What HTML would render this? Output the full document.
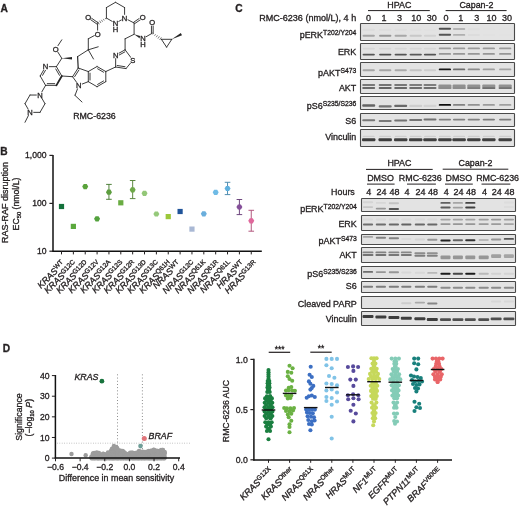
<!DOCTYPE html>
<html><head><meta charset="utf-8"><style>
html,body{margin:0;padding:0;background:#fff;}
svg{display:block;font-family:"Liberation Sans",Arial,sans-serif;}
text{stroke:#231f20;stroke-width:0.32px;}
</style></head><body>
<svg width="520" height="507" viewBox="0 0 520 507">
<defs>
<filter id="bl" x="-20%" y="-50%" width="140%" height="200%"><feGaussianBlur stdDeviation="0.55"/></filter>
</defs>
<rect width="520" height="507" fill="#fff"/>
<text x="0.60" y="12.00" font-size="10.2" font-weight="bold" fill="#231f20">A</text>
<text x="0.20" y="154.50" font-size="10.2" font-weight="bold" fill="#231f20">B</text>
<text x="235.30" y="12.20" font-size="10.2" font-weight="bold" fill="#231f20">C</text>
<text x="2.80" y="352.40" font-size="10.2" font-weight="bold" fill="#231f20">D</text>
<g stroke="#262626" stroke-width="0.9" stroke-linecap="round" fill="none"><line x1="115.50" y1="2.30" x2="124.59" y2="7.55"/><line x1="124.59" y1="7.55" x2="124.59" y2="18.05"/><line x1="124.59" y1="18.05" x2="115.50" y2="23.30"/><line x1="115.50" y1="23.30" x2="106.41" y2="18.05"/><line x1="106.41" y1="18.05" x2="106.41" y2="7.55"/><line x1="106.41" y1="7.55" x2="115.50" y2="2.30"/><line x1="105.69" y1="18.86" x2="105.36" y2="18.33" stroke-width="0.6"/><line x1="104.04" y1="20.14" x2="103.49" y2="19.23" stroke-width="0.6"/><line x1="102.40" y1="21.41" x2="101.61" y2="20.14" stroke-width="0.6"/><line x1="100.75" y1="22.69" x2="99.73" y2="21.04" stroke-width="0.6"/><line x1="99.11" y1="23.97" x2="97.85" y2="21.94" stroke-width="0.6"/><line x1="98.09" y1="22.80" x2="88.69" y2="16.20"/><line x1="97.11" y1="24.20" x2="87.71" y2="17.60"/><line x1="97.60" y1="23.50" x2="97.60" y2="33.80"/><line x1="97.60" y1="33.80" x2="88.30" y2="38.80"/><line x1="88.30" y1="38.80" x2="88.30" y2="49.80"/><line x1="88.30" y1="49.80" x2="98.20" y2="46.80"/><line x1="88.30" y1="49.80" x2="93.50" y2="59.00"/><line x1="88.30" y1="49.80" x2="77.60" y2="56.60"/><line x1="97.05" y1="66.50" x2="105.80" y2="71.55"/><line x1="105.80" y1="71.55" x2="105.80" y2="81.65"/><line x1="105.80" y1="81.65" x2="97.05" y2="86.70"/><line x1="97.05" y1="86.70" x2="88.30" y2="81.65"/><line x1="88.30" y1="81.65" x2="88.30" y2="71.55"/><line x1="88.30" y1="71.55" x2="97.05" y2="66.50"/><line x1="97.60" y1="68.78" x2="103.55" y2="72.21"/><line x1="103.55" y1="80.99" x2="97.60" y2="84.42"/><line x1="90.00" y1="80.03" x2="90.00" y2="73.17"/><line x1="88.30" y1="71.55" x2="78.20" y2="68.00"/><line x1="78.20" y1="68.00" x2="72.60" y2="76.70"/><line x1="72.60" y1="76.70" x2="78.80" y2="85.40"/><line x1="78.80" y1="85.40" x2="88.30" y2="81.65"/><line x1="78.96" y1="69.96" x2="74.70" y2="76.58"/><line x1="77.60" y1="56.60" x2="78.20" y2="68.00" stroke-width="1.2"/><line x1="78.80" y1="85.40" x2="75.00" y2="95.40"/><line x1="75.00" y1="95.40" x2="82.00" y2="102.00"/><line x1="105.80" y1="71.55" x2="115.60" y2="67.00"/><line x1="115.60" y1="67.00" x2="115.70" y2="55.00"/><line x1="115.70" y1="55.00" x2="125.10" y2="49.80"/><line x1="125.10" y1="49.80" x2="132.90" y2="60.20"/><line x1="132.90" y1="60.20" x2="126.00" y2="68.60"/><line x1="126.00" y1="68.60" x2="115.60" y2="67.00"/><line x1="117.65" y1="55.86" x2="124.79" y2="51.91"/><line x1="117.11" y1="65.51" x2="125.01" y2="66.73"/><line x1="125.10" y1="49.80" x2="125.10" y2="38.80"/><line x1="125.10" y1="38.80" x2="134.10" y2="34.30"/><line x1="134.10" y1="34.30" x2="134.10" y2="23.00"/><line x1="124.59" y1="18.05" x2="134.10" y2="23.00"/><line x1="134.58" y1="23.70" x2="143.08" y2="17.90"/><line x1="133.62" y1="22.30" x2="142.12" y2="16.50"/><line x1="142.90" y1="38.60" x2="152.30" y2="33.20"/><line x1="153.15" y1="33.20" x2="153.15" y2="22.50"/><line x1="151.45" y1="33.20" x2="151.45" y2="22.50"/><line x1="153.38" y1="33.55" x2="153.04" y2="34.07" stroke-width="0.6"/><line x1="155.33" y1="34.59" x2="154.73" y2="35.47" stroke-width="0.6"/><line x1="157.27" y1="35.63" x2="156.43" y2="36.87" stroke-width="0.6"/><line x1="159.21" y1="36.66" x2="158.13" y2="38.28" stroke-width="0.6"/><line x1="161.15" y1="37.70" x2="159.83" y2="39.68" stroke-width="0.6"/><line x1="161.40" y1="39.30" x2="171.80" y2="39.30"/><line x1="171.80" y1="39.30" x2="166.60" y2="47.20"/><line x1="166.60" y1="47.20" x2="161.40" y2="39.30"/><line x1="61.80" y1="76.00" x2="56.40" y2="85.35" stroke-width="1.8"/><line x1="56.40" y1="85.35" x2="45.60" y2="85.35"/><line x1="45.60" y1="85.35" x2="40.20" y2="76.00"/><line x1="40.20" y1="76.00" x2="45.60" y2="66.65"/><line x1="45.60" y1="66.65" x2="56.40" y2="66.65"/><line x1="56.40" y1="66.65" x2="61.80" y2="76.00"/><line x1="46.21" y1="68.99" x2="42.54" y2="75.35"/><line x1="47.33" y1="83.65" x2="54.67" y2="83.65"/><line x1="55.79" y1="68.99" x2="59.46" y2="75.35"/><line x1="61.80" y1="76.00" x2="72.60" y2="76.70"/><line x1="56.40" y1="66.65" x2="61.80" y2="58.30"/><line x1="61.80" y1="58.30" x2="55.80" y2="48.90"/><line x1="55.80" y1="48.90" x2="61.80" y2="39.80"/><line x1="45.00" y1="103.70" x2="40.00" y2="112.36"/><line x1="40.00" y1="112.36" x2="30.00" y2="112.36"/><line x1="30.00" y1="112.36" x2="25.00" y2="103.70"/><line x1="25.00" y1="103.70" x2="30.00" y2="95.04"/><line x1="30.00" y1="95.04" x2="40.00" y2="95.04"/><line x1="40.00" y1="95.04" x2="45.00" y2="103.70"/><line x1="45.60" y1="85.35" x2="40.00" y2="95.04"/><line x1="30.00" y1="112.36" x2="25.00" y2="122.30"/></g>
<g fill="#262626"><polygon points="134.10,34.30 139.91,38.47 140.96,36.32"/><polygon points="171.80,39.30 182.01,35.35 180.79,33.05"/><polygon points="61.80,58.30 72.00,59.60 72.00,57.00"/></g>
<circle cx="88.20" cy="16.90" r="3.3" fill="#fff"/>
<text x="88.20" y="19.60" font-size="7.6" text-anchor="middle" fill="#262626">O</text>
<circle cx="97.60" cy="33.80" r="3.3" fill="#fff"/>
<text x="97.60" y="36.50" font-size="7.6" text-anchor="middle" fill="#262626">O</text>
<circle cx="124.59" cy="18.05" r="3.3" fill="#fff"/>
<text x="124.59" y="20.75" font-size="7.6" text-anchor="middle" fill="#262626">N</text>
<circle cx="115.50" cy="23.30" r="3.3" fill="#fff"/>
<text x="115.50" y="26.00" font-size="7.6" text-anchor="middle" fill="#262626">N</text>
<circle cx="115.50" cy="29.50" r="3.3" fill="#fff"/>
<text x="115.50" y="32.20" font-size="7.6" text-anchor="middle" fill="#262626">H</text>
<circle cx="142.60" cy="17.20" r="3.3" fill="#fff"/>
<text x="142.60" y="19.90" font-size="7.6" text-anchor="middle" fill="#262626">O</text>
<circle cx="142.90" cy="38.60" r="3.3" fill="#fff"/>
<text x="142.90" y="41.30" font-size="7.6" text-anchor="middle" fill="#262626">N</text>
<circle cx="142.90" cy="44.60" r="3.3" fill="#fff"/>
<text x="142.90" y="47.30" font-size="7.6" text-anchor="middle" fill="#262626">H</text>
<circle cx="152.30" cy="22.50" r="3.3" fill="#fff"/>
<text x="152.30" y="25.20" font-size="7.6" text-anchor="middle" fill="#262626">O</text>
<circle cx="115.70" cy="55.00" r="3.3" fill="#fff"/>
<text x="115.70" y="57.70" font-size="7.6" text-anchor="middle" fill="#262626">N</text>
<circle cx="132.90" cy="60.20" r="3.3" fill="#fff"/>
<text x="132.90" y="62.90" font-size="7.6" text-anchor="middle" fill="#262626">S</text>
<circle cx="78.80" cy="85.40" r="3.3" fill="#fff"/>
<text x="78.80" y="88.10" font-size="7.6" text-anchor="middle" fill="#262626">N</text>
<circle cx="45.60" cy="66.65" r="3.3" fill="#fff"/>
<text x="45.60" y="69.35" font-size="7.6" text-anchor="middle" fill="#262626">N</text>
<circle cx="55.80" cy="48.90" r="3.3" fill="#fff"/>
<text x="55.80" y="51.60" font-size="7.6" text-anchor="middle" fill="#262626">O</text>
<circle cx="40.00" cy="95.04" r="3.3" fill="#fff"/>
<text x="40.00" y="97.74" font-size="7.6" text-anchor="middle" fill="#262626">N</text>
<circle cx="30.00" cy="112.36" r="3.3" fill="#fff"/>
<text x="30.00" y="115.06" font-size="7.6" text-anchor="middle" fill="#262626">N</text>
<text x="73.20" y="119.10" font-size="8.8" fill="#231f20">RMC-6236</text>
<line x1="53.00" y1="154.90" x2="53.00" y2="251.90" stroke="#111" stroke-width="1.5"/>
<line x1="52.30" y1="251.20" x2="261.80" y2="251.20" stroke="#111" stroke-width="1.5"/>
<line x1="49.40" y1="155.40" x2="53.00" y2="155.40" stroke="#231f20" stroke-width="1.2"/>
<text x="46.50" y="157.90" font-size="8.6" text-anchor="end" fill="#231f20">1,000</text>
<line x1="49.40" y1="203.40" x2="53.00" y2="203.40" stroke="#231f20" stroke-width="1.2"/>
<text x="46.50" y="205.90" font-size="8.6" text-anchor="end" fill="#231f20">100</text>
<line x1="49.40" y1="251.20" x2="53.00" y2="251.20" stroke="#231f20" stroke-width="1.2"/>
<text x="46.50" y="253.70" font-size="8.6" text-anchor="end" fill="#231f20">10</text>
<text transform="translate(8.0,202.6) rotate(-90)" font-size="9.0" text-anchor="middle" fill="#231f20">RAS-RAF disruption</text>
<text transform="translate(19.4,204.0) rotate(-90)" font-size="8.7" text-anchor="middle" fill="#231f20">EC<tspan font-size="5.8" dy="1.6">50</tspan><tspan dy="-1.6"> (nmol/L)</tspan></text>
<line x1="61.50" y1="251.20" x2="61.50" y2="254.40" stroke="#231f20" stroke-width="1.0"/>
<rect x="58.90" y="203.90" width="5.2" height="5.2" fill="#13713a"/>
<text transform="translate(65.50,264.40) rotate(-45)" font-size="9.0" text-anchor="end" fill="#231f20"><tspan font-style="italic">KRAS</tspan><tspan font-size="6.6" dy="-2.9">WT</tspan></text>
<line x1="73.36" y1="251.20" x2="73.36" y2="254.40" stroke="#231f20" stroke-width="1.0"/>
<rect x="70.76" y="223.80" width="5.2" height="5.2" fill="#5aa83c"/>
<text transform="translate(77.36,264.40) rotate(-45)" font-size="9.0" text-anchor="end" fill="#231f20"><tspan font-style="italic">KRAS</tspan><tspan font-size="6.6" dy="-2.9">G12C</tspan></text>
<line x1="85.22" y1="251.20" x2="85.22" y2="254.40" stroke="#231f20" stroke-width="1.0"/>
<polygon points="88.22,186.60 86.72,189.20 83.72,189.20 82.22,186.60 83.72,184.00 86.72,184.00" fill="#5aa33c"/>
<text transform="translate(89.22,264.40) rotate(-45)" font-size="9.0" text-anchor="end" fill="#231f20"><tspan font-style="italic">KRAS</tspan><tspan font-size="6.6" dy="-2.9">G12D</tspan></text>
<line x1="97.08" y1="251.20" x2="97.08" y2="254.40" stroke="#231f20" stroke-width="1.0"/>
<polygon points="100.08,218.80 98.58,221.40 95.58,221.40 94.08,218.80 95.58,216.20 98.58,216.20" fill="#54a23e"/>
<text transform="translate(101.08,264.40) rotate(-45)" font-size="9.0" text-anchor="end" fill="#231f20"><tspan font-style="italic">KRAS</tspan><tspan font-size="6.6" dy="-2.9">G12V</tspan></text>
<line x1="108.94" y1="251.20" x2="108.94" y2="254.40" stroke="#231f20" stroke-width="1.0"/>
<line x1="108.94" y1="184.40" x2="108.94" y2="199.30" stroke="#487b31" stroke-width="0.95"/>
<line x1="106.14" y1="184.40" x2="111.74" y2="184.40" stroke="#487b31" stroke-width="0.95"/>
<line x1="106.14" y1="199.30" x2="111.74" y2="199.30" stroke="#487b31" stroke-width="0.95"/>
<polygon points="111.94,192.20 110.44,194.80 107.44,194.80 105.94,192.20 107.44,189.60 110.44,189.60" fill="#5d9e3f"/>
<text transform="translate(112.94,264.40) rotate(-45)" font-size="9.0" text-anchor="end" fill="#231f20"><tspan font-style="italic">KRAS</tspan><tspan font-size="6.6" dy="-2.9">G12A</tspan></text>
<line x1="120.80" y1="251.20" x2="120.80" y2="254.40" stroke="#231f20" stroke-width="1.0"/>
<rect x="118.20" y="200.20" width="5.2" height="5.2" fill="#6aac42"/>
<text transform="translate(124.80,264.40) rotate(-45)" font-size="9.0" text-anchor="end" fill="#231f20"><tspan font-style="italic">KRAS</tspan><tspan font-size="6.6" dy="-2.9">G12S</tspan></text>
<line x1="132.66" y1="251.20" x2="132.66" y2="254.40" stroke="#231f20" stroke-width="1.0"/>
<line x1="132.66" y1="180.50" x2="132.66" y2="198.60" stroke="#558338" stroke-width="0.95"/>
<line x1="129.86" y1="180.50" x2="135.46" y2="180.50" stroke="#558338" stroke-width="0.95"/>
<line x1="129.86" y1="198.60" x2="135.46" y2="198.60" stroke="#558338" stroke-width="0.95"/>
<polygon points="135.66,189.80 134.16,192.40 131.16,192.40 129.66,189.80 131.16,187.20 134.16,187.20" fill="#6ea848"/>
<text transform="translate(136.66,264.40) rotate(-45)" font-size="9.0" text-anchor="end" fill="#231f20"><tspan font-style="italic">KRAS</tspan><tspan font-size="6.6" dy="-2.9">G12R</tspan></text>
<line x1="144.52" y1="251.20" x2="144.52" y2="254.40" stroke="#231f20" stroke-width="1.0"/>
<polygon points="147.52,193.30 146.02,195.90 143.02,195.90 141.52,193.30 143.02,190.70 146.02,190.70" fill="#93c777"/>
<text transform="translate(148.52,264.40) rotate(-45)" font-size="9.0" text-anchor="end" fill="#231f20"><tspan font-style="italic">KRAS</tspan><tspan font-size="6.6" dy="-2.9">G13D</tspan></text>
<line x1="156.38" y1="251.20" x2="156.38" y2="254.40" stroke="#231f20" stroke-width="1.0"/>
<polygon points="159.38,214.00 157.88,216.60 154.88,216.60 153.38,214.00 154.88,211.40 157.88,211.40" fill="#95c97a"/>
<text transform="translate(160.38,264.40) rotate(-45)" font-size="9.0" text-anchor="end" fill="#231f20"><tspan font-style="italic">KRAS</tspan><tspan font-size="6.6" dy="-2.9">G13C</tspan></text>
<line x1="168.24" y1="251.20" x2="168.24" y2="254.40" stroke="#231f20" stroke-width="1.0"/>
<rect x="165.64" y="214.00" width="5.2" height="5.2" fill="#9cc83a"/>
<text transform="translate(172.24,264.40) rotate(-45)" font-size="9.0" text-anchor="end" fill="#231f20"><tspan font-style="italic">KRAS</tspan><tspan font-size="6.6" dy="-2.9">Q61H</tspan></text>
<line x1="180.10" y1="251.20" x2="180.10" y2="254.40" stroke="#231f20" stroke-width="1.0"/>
<rect x="177.50" y="208.90" width="5.2" height="5.2" fill="#20549a"/>
<text transform="translate(181.10,264.40) rotate(-45)" font-size="9.0" text-anchor="end" fill="#231f20"><tspan font-style="italic">NRAS</tspan><tspan font-size="6.6" dy="-2.9">WT</tspan></text>
<line x1="191.96" y1="251.20" x2="191.96" y2="254.40" stroke="#231f20" stroke-width="1.0"/>
<rect x="189.36" y="226.50" width="5.2" height="5.2" fill="#a9b8d4"/>
<text transform="translate(195.96,264.40) rotate(-45)" font-size="9.0" text-anchor="end" fill="#231f20"><tspan font-style="italic">NRAS</tspan><tspan font-size="6.6" dy="-2.9">G12C</tspan></text>
<line x1="203.82" y1="251.20" x2="203.82" y2="254.40" stroke="#231f20" stroke-width="1.0"/>
<polygon points="206.82,213.80 205.32,216.40 202.32,216.40 200.82,213.80 202.32,211.20 205.32,211.20" fill="#6aaedc"/>
<text transform="translate(207.82,264.40) rotate(-45)" font-size="9.0" text-anchor="end" fill="#231f20"><tspan font-style="italic">NRAS</tspan><tspan font-size="6.6" dy="-2.9">Q61K</tspan></text>
<line x1="215.68" y1="251.20" x2="215.68" y2="254.40" stroke="#231f20" stroke-width="1.0"/>
<polygon points="218.68,192.30 217.18,194.90 214.18,194.90 212.68,192.30 214.18,189.70 217.18,189.70" fill="#6fbbe6"/>
<text transform="translate(220.68,264.40) rotate(-45)" font-size="9.0" text-anchor="end" fill="#231f20"><tspan font-style="italic">NRAS</tspan><tspan font-size="6.6" dy="-2.9">Q61R</tspan></text>
<line x1="227.54" y1="251.20" x2="227.54" y2="254.40" stroke="#231f20" stroke-width="1.0"/>
<line x1="227.54" y1="182.30" x2="227.54" y2="194.60" stroke="#4a89ad" stroke-width="0.95"/>
<line x1="224.74" y1="182.30" x2="230.34" y2="182.30" stroke="#4a89ad" stroke-width="0.95"/>
<line x1="224.74" y1="194.60" x2="230.34" y2="194.60" stroke="#4a89ad" stroke-width="0.95"/>
<polygon points="230.54,188.50 229.04,191.10 226.04,191.10 224.54,188.50 226.04,185.90 229.04,185.90" fill="#5fb0de"/>
<text transform="translate(232.54,264.40) rotate(-45)" font-size="9.0" text-anchor="end" fill="#231f20"><tspan font-style="italic">NRAS</tspan><tspan font-size="6.6" dy="-2.9">Q61L</tspan></text>
<line x1="239.40" y1="251.20" x2="239.40" y2="254.40" stroke="#231f20" stroke-width="1.0"/>
<line x1="239.40" y1="199.50" x2="239.40" y2="214.60" stroke="#673e78" stroke-width="0.95"/>
<line x1="236.60" y1="199.50" x2="242.20" y2="199.50" stroke="#673e78" stroke-width="0.95"/>
<line x1="236.60" y1="214.60" x2="242.20" y2="214.60" stroke="#673e78" stroke-width="0.95"/>
<polygon points="242.40,207.00 240.90,209.60 237.90,209.60 236.40,207.00 237.90,204.40 240.90,204.40" fill="#85509a"/>
<text transform="translate(244.90,264.40) rotate(-45)" font-size="9.0" text-anchor="end" fill="#231f20"><tspan font-style="italic">HRAS</tspan><tspan font-size="6.6" dy="-2.9">WT</tspan></text>
<line x1="251.26" y1="251.20" x2="251.26" y2="254.40" stroke="#231f20" stroke-width="1.0"/>
<line x1="251.26" y1="210.30" x2="251.26" y2="231.20" stroke="#ae5078" stroke-width="0.95"/>
<line x1="248.46" y1="210.30" x2="254.06" y2="210.30" stroke="#ae5078" stroke-width="0.95"/>
<line x1="248.46" y1="231.20" x2="254.06" y2="231.20" stroke="#ae5078" stroke-width="0.95"/>
<polygon points="254.26,220.80 252.76,223.40 249.76,223.40 248.26,220.80 249.76,218.20 252.76,218.20" fill="#e0679b"/>
<text transform="translate(258.06,264.40) rotate(-45)" font-size="9.0" text-anchor="end" fill="#231f20"><tspan font-style="italic">HRAS</tspan><tspan font-size="6.6" dy="-2.9">G13R</tspan></text>
<text x="356.20" y="21.20" font-size="9.05" text-anchor="end" fill="#231f20">RMC-6236 (nmol/L), 4 h</text>
<text x="368.40" y="20.80" font-size="9.0" text-anchor="middle" fill="#231f20">0</text>
<text x="384.10" y="20.80" font-size="9.0" text-anchor="middle" fill="#231f20">1</text>
<text x="399.60" y="20.80" font-size="9.0" text-anchor="middle" fill="#231f20">3</text>
<text x="416.30" y="20.80" font-size="9.0" text-anchor="middle" fill="#231f20">10</text>
<text x="431.80" y="20.80" font-size="9.0" text-anchor="middle" fill="#231f20">30</text>
<text x="446.10" y="20.80" font-size="9.0" text-anchor="middle" fill="#231f20">0</text>
<text x="460.80" y="20.80" font-size="9.0" text-anchor="middle" fill="#231f20">1</text>
<text x="476.70" y="20.80" font-size="9.0" text-anchor="middle" fill="#231f20">3</text>
<text x="491.40" y="20.80" font-size="9.0" text-anchor="middle" fill="#231f20">10</text>
<text x="506.90" y="20.80" font-size="9.0" text-anchor="middle" fill="#231f20">30</text>
<text x="399.30" y="7.70" font-size="8.9" text-anchor="middle" fill="#231f20">HPAC</text>
<text x="476.40" y="7.70" font-size="8.9" text-anchor="middle" fill="#231f20">Capan-2</text>
<line x1="368.00" y1="10.60" x2="429.80" y2="10.60" stroke="#231f20" stroke-width="1.0"/>
<line x1="445.60" y1="10.60" x2="506.60" y2="10.60" stroke="#231f20" stroke-width="1.0"/>
<rect x="360.50" y="23.50" width="154.00" height="17.00" fill="#e3e3e3" stroke="#4a4a4a" stroke-width="1.1" rx="0.6"/>
<g filter="url(#bl)"><rect x="362.56" y="28.85" width="12.29" height="1.90" rx="1" fill="#dcdcdc"/><rect x="379.06" y="28.85" width="12.29" height="1.90" rx="1" fill="#dddddd"/><rect x="394.56" y="28.85" width="12.29" height="1.90" rx="1" fill="#dedede"/><rect x="409.56" y="28.85" width="12.29" height="1.90" rx="1" fill="#e0e0e0"/><rect x="423.86" y="28.85" width="12.29" height="1.90" rx="1" fill="#e1e1e1"/><rect x="362.56" y="34.85" width="12.29" height="1.90" rx="1" fill="#a5a5a5"/><rect x="379.06" y="34.85" width="12.29" height="1.90" rx="1" fill="#969696"/><rect x="394.56" y="34.85" width="12.29" height="1.90" rx="1" fill="#a8a8a8"/><rect x="409.56" y="34.85" width="12.29" height="1.90" rx="1" fill="#c8c8c8"/><rect x="423.86" y="34.85" width="12.29" height="1.90" rx="1" fill="#d2d2d2"/><rect x="438.76" y="27.75" width="12.29" height="1.90" rx="1" fill="#505050"/><rect x="452.96" y="28.05" width="12.29" height="1.90" rx="1" fill="#b4b4b4"/><rect x="467.66" y="28.25" width="12.29" height="1.90" rx="1" fill="#dedede"/><rect x="482.66" y="28.25" width="12.29" height="1.90" rx="1" fill="#e2e2e2"/><rect x="499.06" y="28.25" width="12.29" height="1.90" rx="1" fill="#e2e2e2"/><rect x="438.76" y="33.75" width="12.29" height="1.90" rx="1" fill="#555555"/><rect x="452.96" y="33.95" width="12.29" height="1.90" rx="1" fill="#afafaf"/><rect x="467.66" y="34.05" width="12.29" height="1.90" rx="1" fill="#dcdcdc"/><rect x="482.66" y="34.05" width="12.29" height="1.90" rx="1" fill="#e1e1e1"/><rect x="499.06" y="34.05" width="12.29" height="1.90" rx="1" fill="#e2e2e2"/></g>
<text x="356.30" y="38.30" font-size="8.95" text-anchor="end" fill="#231f20">pERK<tspan font-size="6.8" dy="-2.9">T202/Y204</tspan></text>
<rect x="360.50" y="43.50" width="154.00" height="16.00" fill="#e3e3e3" stroke="#4a4a4a" stroke-width="1.1" rx="0.6"/>
<g filter="url(#bl)"><rect x="362.56" y="47.65" width="12.29" height="1.90" rx="1" fill="#d6d6d6"/><rect x="379.06" y="47.65" width="12.29" height="1.90" rx="1" fill="#d6d6d6"/><rect x="394.56" y="47.65" width="12.29" height="1.90" rx="1" fill="#d6d6d6"/><rect x="409.56" y="47.65" width="12.29" height="1.90" rx="1" fill="#d6d6d6"/><rect x="423.86" y="47.65" width="12.29" height="1.90" rx="1" fill="#d6d6d6"/><rect x="362.56" y="53.65" width="12.29" height="1.90" rx="1" fill="#555555"/><rect x="379.06" y="53.65" width="12.29" height="1.90" rx="1" fill="#505050"/><rect x="394.56" y="53.65" width="12.29" height="1.90" rx="1" fill="#555555"/><rect x="409.56" y="53.65" width="12.29" height="1.90" rx="1" fill="#5a5a5a"/><rect x="423.86" y="53.65" width="12.29" height="1.90" rx="1" fill="#555555"/><rect x="438.76" y="47.45" width="12.29" height="1.90" rx="1" fill="#9b9b9b"/><rect x="452.96" y="47.45" width="12.29" height="1.90" rx="1" fill="#9b9b9b"/><rect x="467.66" y="47.45" width="12.29" height="1.90" rx="1" fill="#9b9b9b"/><rect x="482.66" y="47.45" width="12.29" height="1.90" rx="1" fill="#9b9b9b"/><rect x="499.06" y="47.45" width="12.29" height="1.90" rx="1" fill="#9b9b9b"/><rect x="438.76" y="52.95" width="12.29" height="1.90" rx="1" fill="#969696"/><rect x="452.96" y="52.95" width="12.29" height="1.90" rx="1" fill="#969696"/><rect x="467.66" y="52.95" width="12.29" height="1.90" rx="1" fill="#969696"/><rect x="482.66" y="52.95" width="12.29" height="1.90" rx="1" fill="#969696"/><rect x="499.06" y="52.95" width="12.29" height="1.90" rx="1" fill="#969696"/></g>
<text x="356.30" y="55.10" font-size="8.95" text-anchor="end" fill="#231f20">ERK</text>
<rect x="360.50" y="62.50" width="154.00" height="14.00" fill="#e3e3e3" stroke="#4a4a4a" stroke-width="1.1" rx="0.6"/>
<g filter="url(#bl)"><rect x="362.56" y="69.25" width="12.29" height="1.90" rx="1" fill="#a5a5a5"/><rect x="379.06" y="69.25" width="12.29" height="1.90" rx="1" fill="#a5a5a5"/><rect x="394.56" y="69.25" width="12.29" height="1.90" rx="1" fill="#aaaaaa"/><rect x="409.56" y="69.25" width="12.29" height="1.90" rx="1" fill="#c3c3c3"/><rect x="423.86" y="69.25" width="12.29" height="1.90" rx="1" fill="#cdcdcd"/><rect x="438.76" y="68.45" width="12.29" height="1.90" rx="1" fill="#191919"/><rect x="452.96" y="68.45" width="12.29" height="1.90" rx="1" fill="#6e6e6e"/><rect x="467.66" y="68.45" width="12.29" height="1.90" rx="1" fill="#8c8c8c"/><rect x="482.66" y="68.45" width="12.29" height="1.90" rx="1" fill="#a0a0a0"/><rect x="499.06" y="68.45" width="12.29" height="1.90" rx="1" fill="#a5a5a5"/></g>
<text x="356.30" y="76.30" font-size="8.95" text-anchor="end" fill="#231f20">pAKT<tspan font-size="6.8" dy="-2.9">S473</tspan></text>
<rect x="360.50" y="79.50" width="154.00" height="14.00" fill="#e3e3e3" stroke="#4a4a4a" stroke-width="1.1" rx="0.6"/>
<g filter="url(#bl)"><rect x="362.20" y="84.05" width="13.00" height="1.90" rx="1" fill="#787878"/><rect x="378.70" y="84.05" width="13.00" height="1.90" rx="1" fill="#737373"/><rect x="394.20" y="84.05" width="13.00" height="1.90" rx="1" fill="#787878"/><rect x="409.20" y="84.05" width="13.00" height="1.90" rx="1" fill="#7d7d7d"/><rect x="423.50" y="84.05" width="13.00" height="1.90" rx="1" fill="#7d7d7d"/><rect x="362.20" y="86.95" width="13.00" height="2.10" rx="1" fill="#696969"/><rect x="378.70" y="86.95" width="13.00" height="2.10" rx="1" fill="#646464"/><rect x="394.20" y="86.95" width="13.00" height="2.10" rx="1" fill="#696969"/><rect x="409.20" y="86.95" width="13.00" height="2.10" rx="1" fill="#6e6e6e"/><rect x="423.50" y="86.95" width="13.00" height="2.10" rx="1" fill="#6e6e6e"/><rect x="438.40" y="84.40" width="13.00" height="4.40" rx="1" fill="#919191"/><rect x="452.60" y="84.40" width="13.00" height="4.40" rx="1" fill="#919191"/><rect x="467.30" y="84.40" width="13.00" height="4.40" rx="1" fill="#919191"/><rect x="482.30" y="84.40" width="13.00" height="4.40" rx="1" fill="#919191"/><rect x="498.70" y="84.40" width="13.00" height="4.40" rx="1" fill="#919191"/><rect x="438.40" y="87.30" width="13.00" height="1.80" rx="1" fill="#8c8c8c"/><rect x="452.60" y="87.30" width="13.00" height="1.80" rx="1" fill="#8c8c8c"/><rect x="467.30" y="87.30" width="13.00" height="1.80" rx="1" fill="#7d7d7d"/><rect x="482.30" y="87.30" width="13.00" height="1.80" rx="1" fill="#6e6e6e"/><rect x="498.70" y="87.30" width="13.00" height="1.80" rx="1" fill="#737373"/></g>
<text x="356.30" y="91.10" font-size="8.95" text-anchor="end" fill="#231f20">AKT</text>
<rect x="360.50" y="96.50" width="154.00" height="13.00" fill="#e3e3e3" stroke="#4a4a4a" stroke-width="1.1" rx="0.6"/>
<g filter="url(#bl)"><rect x="362.20" y="104.35" width="13.00" height="2.30" rx="1" fill="#646464"/><rect x="378.70" y="105.15" width="13.00" height="2.30" rx="1" fill="#737373"/><rect x="394.20" y="104.65" width="13.00" height="2.30" rx="1" fill="#696969"/><rect x="409.20" y="104.65" width="13.00" height="2.30" rx="1" fill="#cdcdcd"/><rect x="423.50" y="104.65" width="13.00" height="2.30" rx="1" fill="#d2d2d2"/><rect x="438.76" y="103.95" width="12.29" height="1.90" rx="1" fill="#0a0a0a"/><rect x="452.96" y="103.95" width="12.29" height="1.90" rx="1" fill="#828282"/><rect x="467.66" y="103.95" width="12.29" height="1.90" rx="1" fill="#919191"/><rect x="482.66" y="103.95" width="12.29" height="1.90" rx="1" fill="#9b9b9b"/><rect x="499.06" y="103.95" width="12.29" height="1.90" rx="1" fill="#a0a0a0"/></g>
<text x="356.30" y="109.20" font-size="8.95" text-anchor="end" fill="#231f20">pS6<tspan font-size="6.8" dy="-2.9">S235/S236</tspan></text>
<rect x="360.50" y="113.50" width="154.00" height="13.00" fill="#e3e3e3" stroke="#4a4a4a" stroke-width="1.1" rx="0.6"/>
<g filter="url(#bl)"><rect x="362.20" y="119.20" width="13.00" height="2.00" rx="1" fill="#787878"/><rect x="378.70" y="120.00" width="13.00" height="2.00" rx="1" fill="#787878"/><rect x="394.20" y="119.50" width="13.00" height="2.00" rx="1" fill="#737373"/><rect x="409.20" y="119.00" width="13.00" height="2.00" rx="1" fill="#737373"/><rect x="423.50" y="118.50" width="13.00" height="2.00" rx="1" fill="#737373"/><rect x="438.76" y="118.65" width="12.29" height="1.90" rx="1" fill="#828282"/><rect x="452.96" y="118.65" width="12.29" height="1.90" rx="1" fill="#828282"/><rect x="467.66" y="118.65" width="12.29" height="1.90" rx="1" fill="#828282"/><rect x="482.66" y="118.65" width="12.29" height="1.90" rx="1" fill="#7d7d7d"/><rect x="499.06" y="118.65" width="12.29" height="1.90" rx="1" fill="#7d7d7d"/></g>
<text x="356.30" y="123.60" font-size="8.95" text-anchor="end" fill="#231f20">S6</text>
<rect x="360.50" y="129.50" width="154.00" height="17.00" fill="#e3e3e3" stroke="#4a4a4a" stroke-width="1.1" rx="0.6"/>
<g filter="url(#bl)"><rect x="362.00" y="138.30" width="13.40" height="3.00" rx="1" fill="#3c3c3c"/><rect x="378.50" y="138.30" width="13.40" height="3.00" rx="1" fill="#3c3c3c"/><rect x="394.00" y="138.30" width="13.40" height="3.00" rx="1" fill="#414141"/><rect x="409.00" y="138.30" width="13.40" height="3.00" rx="1" fill="#414141"/><rect x="423.30" y="138.30" width="13.40" height="3.00" rx="1" fill="#414141"/><rect x="438.20" y="138.30" width="13.40" height="3.00" rx="1" fill="#414141"/><rect x="452.40" y="138.30" width="13.40" height="3.00" rx="1" fill="#414141"/><rect x="467.10" y="138.30" width="13.40" height="3.00" rx="1" fill="#414141"/><rect x="482.10" y="138.30" width="13.40" height="3.00" rx="1" fill="#414141"/><rect x="498.50" y="138.30" width="13.40" height="3.00" rx="1" fill="#414141"/><rect x="362.70" y="135.70" width="12.00" height="1.40" rx="1" fill="#cdcdcd"/><rect x="379.20" y="135.70" width="12.00" height="1.40" rx="1" fill="#cdcdcd"/><rect x="394.70" y="135.70" width="12.00" height="1.40" rx="1" fill="#cdcdcd"/><rect x="409.70" y="135.70" width="12.00" height="1.40" rx="1" fill="#cdcdcd"/><rect x="424.00" y="135.70" width="12.00" height="1.40" rx="1" fill="#cdcdcd"/><rect x="438.90" y="135.70" width="12.00" height="1.40" rx="1" fill="#cdcdcd"/><rect x="453.10" y="135.70" width="12.00" height="1.40" rx="1" fill="#cdcdcd"/><rect x="467.80" y="135.70" width="12.00" height="1.40" rx="1" fill="#cdcdcd"/><rect x="482.80" y="135.70" width="12.00" height="1.40" rx="1" fill="#cdcdcd"/><rect x="499.20" y="135.70" width="12.00" height="1.40" rx="1" fill="#cdcdcd"/></g>
<text x="356.30" y="139.90" font-size="8.95" text-anchor="end" fill="#231f20">Vinculin</text>
<text x="399.40" y="165.90" font-size="8.9" text-anchor="middle" fill="#231f20">HPAC</text>
<text x="475.50" y="165.90" font-size="8.9" text-anchor="middle" fill="#231f20">Capan-2</text>
<line x1="366.00" y1="169.40" x2="432.70" y2="169.40" stroke="#231f20" stroke-width="1.0"/>
<line x1="442.70" y1="169.20" x2="508.30" y2="169.20" stroke="#231f20" stroke-width="1.0"/>
<text x="380.50" y="181.40" font-size="8.9" text-anchor="middle" fill="#231f20">DMSO</text>
<text x="420.30" y="181.40" font-size="8.9" text-anchor="middle" fill="#231f20">RMC-6236</text>
<text x="458.80" y="181.40" font-size="8.9" text-anchor="middle" fill="#231f20">DMSO</text>
<text x="497.60" y="181.40" font-size="8.9" text-anchor="middle" fill="#231f20">RMC-6236</text>
<line x1="367.00" y1="184.10" x2="394.60" y2="184.10" stroke="#231f20" stroke-width="1.0"/>
<line x1="407.00" y1="184.10" x2="435.90" y2="184.10" stroke="#231f20" stroke-width="1.0"/>
<line x1="445.00" y1="184.10" x2="472.80" y2="184.10" stroke="#231f20" stroke-width="1.0"/>
<line x1="481.50" y1="184.10" x2="510.40" y2="184.10" stroke="#231f20" stroke-width="1.0"/>
<text x="354.80" y="195.10" font-size="8.9" text-anchor="end" fill="#231f20">Hours</text>
<text x="368.70" y="194.80" font-size="9.0" text-anchor="middle" fill="#231f20">4</text>
<text x="381.60" y="194.80" font-size="9.0" text-anchor="middle" fill="#231f20">24</text>
<text x="394.60" y="194.80" font-size="9.0" text-anchor="middle" fill="#231f20">48</text>
<text x="407.00" y="194.80" font-size="9.0" text-anchor="middle" fill="#231f20">4</text>
<text x="420.60" y="194.80" font-size="9.0" text-anchor="middle" fill="#231f20">24</text>
<text x="433.00" y="194.80" font-size="9.0" text-anchor="middle" fill="#231f20">48</text>
<text x="446.20" y="194.80" font-size="9.0" text-anchor="middle" fill="#231f20">4</text>
<text x="458.60" y="194.80" font-size="9.0" text-anchor="middle" fill="#231f20">24</text>
<text x="471.00" y="194.80" font-size="9.0" text-anchor="middle" fill="#231f20">48</text>
<text x="484.40" y="194.80" font-size="9.0" text-anchor="middle" fill="#231f20">4</text>
<text x="496.80" y="194.80" font-size="9.0" text-anchor="middle" fill="#231f20">24</text>
<text x="509.60" y="194.80" font-size="9.0" text-anchor="middle" fill="#231f20">48</text>
<rect x="361.50" y="198.50" width="154.00" height="13.00" fill="#e3e3e3" stroke="#4a4a4a" stroke-width="1.1" rx="0.6"/>
<g filter="url(#bl)"><rect x="362.88" y="201.25" width="10.24" height="1.90" rx="1" fill="#d4d4d4"/><rect x="375.78" y="201.95" width="10.24" height="1.90" rx="1" fill="#d6d6d6"/><rect x="388.78" y="202.25" width="10.24" height="1.90" rx="1" fill="#c3c3c3"/><rect x="362.88" y="206.15" width="10.24" height="1.90" rx="1" fill="#c6c6c6"/><rect x="375.78" y="207.65" width="10.24" height="1.90" rx="1" fill="#969696"/><rect x="388.78" y="208.05" width="10.24" height="1.90" rx="1" fill="#555555"/><rect x="440.38" y="201.95" width="10.24" height="1.90" rx="1" fill="#5f5f5f"/><rect x="452.78" y="201.95" width="10.24" height="1.90" rx="1" fill="#a5a5a5"/><rect x="465.18" y="201.95" width="10.24" height="1.90" rx="1" fill="#464646"/><rect x="440.38" y="206.55" width="10.24" height="1.90" rx="1" fill="#5a5a5a"/><rect x="452.78" y="206.65" width="10.24" height="1.90" rx="1" fill="#a0a0a0"/><rect x="465.18" y="206.55" width="10.24" height="1.90" rx="1" fill="#414141"/><rect x="503.78" y="201.55" width="10.24" height="1.90" rx="1" fill="#dcdcdc"/><rect x="503.78" y="206.05" width="10.24" height="1.90" rx="1" fill="#dcdcdc"/></g>
<text x="356.80" y="211.50" font-size="8.95" text-anchor="end" fill="#231f20">pERK<tspan font-size="6.8" dy="-2.9">T202/Y204</tspan></text>
<rect x="361.50" y="215.50" width="154.00" height="15.00" fill="#e3e3e3" stroke="#4a4a4a" stroke-width="1.1" rx="0.6"/>
<g filter="url(#bl)"><rect x="362.88" y="218.55" width="10.24" height="1.90" rx="1" fill="#dadada"/><rect x="375.78" y="218.55" width="10.24" height="1.90" rx="1" fill="#dadada"/><rect x="388.78" y="218.55" width="10.24" height="1.90" rx="1" fill="#dadada"/><rect x="401.18" y="218.55" width="10.24" height="1.90" rx="1" fill="#dadada"/><rect x="414.78" y="218.55" width="10.24" height="1.90" rx="1" fill="#dadada"/><rect x="427.18" y="218.55" width="10.24" height="1.90" rx="1" fill="#dadada"/><rect x="362.88" y="223.55" width="10.24" height="1.90" rx="1" fill="#6e6e6e"/><rect x="375.78" y="223.55" width="10.24" height="1.90" rx="1" fill="#6e6e6e"/><rect x="388.78" y="223.55" width="10.24" height="1.90" rx="1" fill="#696969"/><rect x="401.18" y="223.55" width="10.24" height="1.90" rx="1" fill="#646464"/><rect x="414.78" y="223.55" width="10.24" height="1.90" rx="1" fill="#696969"/><rect x="427.18" y="223.55" width="10.24" height="1.90" rx="1" fill="#696969"/><rect x="440.38" y="218.65" width="10.24" height="1.90" rx="1" fill="#a5a5a5"/><rect x="452.78" y="218.65" width="10.24" height="1.90" rx="1" fill="#a5a5a5"/><rect x="465.18" y="218.65" width="10.24" height="1.90" rx="1" fill="#a5a5a5"/><rect x="478.58" y="218.65" width="10.24" height="1.90" rx="1" fill="#a0a0a0"/><rect x="490.98" y="218.65" width="10.24" height="1.90" rx="1" fill="#9b9b9b"/><rect x="503.78" y="218.65" width="10.24" height="1.90" rx="1" fill="#a0a0a0"/><rect x="440.38" y="223.15" width="10.24" height="1.90" rx="1" fill="#969696"/><rect x="452.78" y="223.15" width="10.24" height="1.90" rx="1" fill="#969696"/><rect x="465.18" y="223.15" width="10.24" height="1.90" rx="1" fill="#969696"/><rect x="478.58" y="223.15" width="10.24" height="1.90" rx="1" fill="#9b9b9b"/><rect x="490.98" y="223.15" width="10.24" height="1.90" rx="1" fill="#9b9b9b"/><rect x="503.78" y="223.15" width="10.24" height="1.90" rx="1" fill="#a5a5a5"/></g>
<text x="356.80" y="226.90" font-size="8.95" text-anchor="end" fill="#231f20">ERK</text>
<rect x="361.50" y="234.50" width="154.00" height="10.00" fill="#e3e3e3" stroke="#4a4a4a" stroke-width="1.1" rx="0.6"/>
<g filter="url(#bl)"><rect x="362.88" y="235.95" width="10.24" height="1.90" rx="1" fill="#a5a5a5"/><rect x="375.78" y="236.85" width="10.24" height="1.90" rx="1" fill="#828282"/><rect x="388.78" y="237.25" width="10.24" height="1.90" rx="1" fill="#828282"/><rect x="401.18" y="238.05" width="10.24" height="1.90" rx="1" fill="#dadada"/><rect x="414.78" y="238.55" width="10.24" height="1.90" rx="1" fill="#d4d4d4"/><rect x="427.18" y="238.75" width="10.24" height="1.90" rx="1" fill="#969696"/><rect x="440.38" y="239.55" width="10.24" height="1.90" rx="1" fill="#232323"/><rect x="452.78" y="239.35" width="10.24" height="1.90" rx="1" fill="#646464"/><rect x="465.18" y="239.25" width="10.24" height="1.90" rx="1" fill="#323232"/><rect x="478.58" y="239.05" width="10.24" height="1.90" rx="1" fill="#b9b9b9"/><rect x="490.98" y="238.55" width="10.24" height="1.90" rx="1" fill="#969696"/><rect x="503.78" y="237.95" width="10.24" height="1.90" rx="1" fill="#555555"/></g>
<text x="356.80" y="243.70" font-size="8.95" text-anchor="end" fill="#231f20">pAKT<tspan font-size="6.8" dy="-2.9">S473</tspan></text>
<rect x="361.50" y="247.50" width="154.00" height="15.00" fill="#e3e3e3" stroke="#4a4a4a" stroke-width="1.1" rx="0.6"/>
<g filter="url(#bl)"><rect x="362.50" y="251.45" width="11.00" height="1.90" rx="1" fill="#828282"/><rect x="375.40" y="251.45" width="11.00" height="1.90" rx="1" fill="#828282"/><rect x="388.40" y="251.45" width="11.00" height="1.90" rx="1" fill="#878787"/><rect x="400.80" y="251.45" width="11.00" height="1.90" rx="1" fill="#878787"/><rect x="414.40" y="252.25" width="11.00" height="1.90" rx="1" fill="#8c8c8c"/><rect x="426.80" y="252.25" width="11.00" height="1.90" rx="1" fill="#919191"/><rect x="362.50" y="253.95" width="11.00" height="2.10" rx="1" fill="#737373"/><rect x="375.40" y="253.95" width="11.00" height="2.10" rx="1" fill="#737373"/><rect x="388.40" y="253.95" width="11.00" height="2.10" rx="1" fill="#787878"/><rect x="400.80" y="253.95" width="11.00" height="2.10" rx="1" fill="#787878"/><rect x="414.40" y="254.75" width="11.00" height="2.10" rx="1" fill="#7d7d7d"/><rect x="426.80" y="254.75" width="11.00" height="2.10" rx="1" fill="#828282"/><rect x="440.50" y="255.40" width="10.00" height="3.80" rx="1" fill="#969696"/><rect x="452.90" y="255.40" width="10.00" height="3.80" rx="1" fill="#969696"/><rect x="465.30" y="255.40" width="10.00" height="3.80" rx="1" fill="#969696"/><rect x="478.70" y="255.40" width="10.00" height="3.80" rx="1" fill="#969696"/><rect x="491.10" y="254.20" width="10.00" height="3.80" rx="1" fill="#a0a0a0"/><rect x="503.90" y="254.20" width="10.00" height="3.80" rx="1" fill="#a5a5a5"/></g>
<text x="356.80" y="257.60" font-size="8.95" text-anchor="end" fill="#231f20">AKT</text>
<rect x="361.50" y="266.50" width="154.00" height="12.00" fill="#e3e3e3" stroke="#4a4a4a" stroke-width="1.1" rx="0.6"/>
<g filter="url(#bl)"><rect x="362.88" y="270.95" width="10.24" height="1.90" rx="1" fill="#6e6e6e"/><rect x="375.78" y="271.15" width="10.24" height="1.90" rx="1" fill="#969696"/><rect x="388.78" y="271.35" width="10.24" height="1.90" rx="1" fill="#969696"/><rect x="401.18" y="271.55" width="10.24" height="1.90" rx="1" fill="#d7d7d7"/><rect x="414.78" y="271.75" width="10.24" height="1.90" rx="1" fill="#d7d7d7"/><rect x="427.18" y="271.95" width="10.24" height="1.90" rx="1" fill="#b9b9b9"/><rect x="440.38" y="272.75" width="10.24" height="1.90" rx="1" fill="#1e1e1e"/><rect x="452.78" y="272.75" width="10.24" height="1.90" rx="1" fill="#464646"/><rect x="465.18" y="272.75" width="10.24" height="1.90" rx="1" fill="#1e1e1e"/><rect x="478.58" y="272.75" width="10.24" height="1.90" rx="1" fill="#b9b9b9"/><rect x="490.98" y="272.75" width="10.24" height="1.90" rx="1" fill="#d2d2d2"/><rect x="503.78" y="272.75" width="10.24" height="1.90" rx="1" fill="#d4d4d4"/></g>
<text x="356.80" y="277.00" font-size="8.95" text-anchor="end" fill="#231f20">pS6<tspan font-size="6.8" dy="-2.9">S235/S236</tspan></text>
<rect x="361.50" y="281.50" width="154.00" height="11.00" fill="#e3e3e3" stroke="#4a4a4a" stroke-width="1.1" rx="0.6"/>
<g filter="url(#bl)"><rect x="362.88" y="285.85" width="10.24" height="1.90" rx="1" fill="#7d7d7d"/><rect x="375.78" y="285.85" width="10.24" height="1.90" rx="1" fill="#7d7d7d"/><rect x="388.78" y="285.85" width="10.24" height="1.90" rx="1" fill="#7d7d7d"/><rect x="401.18" y="285.85" width="10.24" height="1.90" rx="1" fill="#7d7d7d"/><rect x="414.78" y="285.85" width="10.24" height="1.90" rx="1" fill="#7d7d7d"/><rect x="427.18" y="285.85" width="10.24" height="1.90" rx="1" fill="#7d7d7d"/><rect x="440.38" y="286.85" width="10.24" height="1.90" rx="1" fill="#8c8c8c"/><rect x="452.78" y="286.85" width="10.24" height="1.90" rx="1" fill="#8c8c8c"/><rect x="465.18" y="286.85" width="10.24" height="1.90" rx="1" fill="#8c8c8c"/><rect x="478.58" y="286.85" width="10.24" height="1.90" rx="1" fill="#8c8c8c"/><rect x="490.98" y="286.85" width="10.24" height="1.90" rx="1" fill="#8c8c8c"/><rect x="503.78" y="286.85" width="10.24" height="1.90" rx="1" fill="#8c8c8c"/></g>
<text x="356.80" y="289.00" font-size="8.95" text-anchor="end" fill="#231f20">S6</text>
<rect x="361.50" y="296.50" width="154.00" height="12.00" fill="#e3e3e3" stroke="#4a4a4a" stroke-width="1.1" rx="0.6"/>
<g filter="url(#bl)"><rect x="401.18" y="302.25" width="10.24" height="1.90" rx="1" fill="#cdcdcd"/><rect x="414.78" y="301.65" width="10.24" height="1.90" rx="1" fill="#aaaaaa"/><rect x="427.18" y="302.55" width="10.24" height="1.90" rx="1" fill="#878787"/><rect x="490.98" y="300.55" width="10.24" height="1.90" rx="1" fill="#d7d7d7"/><rect x="503.78" y="300.55" width="10.24" height="1.90" rx="1" fill="#d7d7d7"/></g>
<text x="356.80" y="307.00" font-size="8.95" text-anchor="end" fill="#231f20">Cleaved PARP</text>
<rect x="361.50" y="311.50" width="154.00" height="14.00" fill="#e3e3e3" stroke="#4a4a4a" stroke-width="1.1" rx="0.6"/>
<g filter="url(#bl)"><rect x="362.50" y="314.90" width="11.00" height="3.00" rx="1" fill="#3c3c3c"/><rect x="375.40" y="315.50" width="11.00" height="3.00" rx="1" fill="#3c3c3c"/><rect x="388.40" y="316.10" width="11.00" height="3.00" rx="1" fill="#3c3c3c"/><rect x="400.80" y="316.70" width="11.00" height="3.00" rx="1" fill="#3c3c3c"/><rect x="414.40" y="317.30" width="11.00" height="3.00" rx="1" fill="#3c3c3c"/><rect x="426.80" y="317.90" width="11.00" height="3.00" rx="1" fill="#3c3c3c"/><rect x="440.00" y="318.20" width="11.00" height="2.80" rx="1" fill="#505050"/><rect x="452.40" y="318.20" width="11.00" height="2.80" rx="1" fill="#505050"/><rect x="464.80" y="318.20" width="11.00" height="2.80" rx="1" fill="#505050"/><rect x="478.20" y="318.20" width="11.00" height="2.80" rx="1" fill="#505050"/><rect x="490.60" y="317.40" width="11.00" height="2.80" rx="1" fill="#505050"/><rect x="503.40" y="317.40" width="11.00" height="2.80" rx="1" fill="#505050"/></g>
<text x="356.80" y="322.00" font-size="8.95" text-anchor="end" fill="#231f20">Vinculin</text>
<line x1="117.5" y1="374.4" x2="117.5" y2="458.10" stroke="#555" stroke-width="0.75" stroke-dasharray="0.9 2.3"/>
<line x1="142.4" y1="374.4" x2="142.4" y2="458.10" stroke="#555" stroke-width="0.75" stroke-dasharray="0.9 2.3"/>
<line x1="57" y1="443.2" x2="190" y2="443.2" stroke="#999" stroke-width="0.7" stroke-dasharray="0.8 1.6"/>
<g fill="#9c9c9c"><circle cx="91.57" cy="458.30" r="2.2"/><circle cx="91.64" cy="456.70" r="2.2"/><circle cx="91.60" cy="456.35" r="2.2"/><circle cx="92.88" cy="458.30" r="2.2"/><circle cx="92.90" cy="456.70" r="2.2"/><circle cx="92.95" cy="455.10" r="2.2"/><circle cx="92.90" cy="453.48" r="2.2"/><circle cx="94.21" cy="458.30" r="2.2"/><circle cx="94.28" cy="456.70" r="2.2"/><circle cx="94.38" cy="455.10" r="2.2"/><circle cx="93.96" cy="453.50" r="2.2"/><circle cx="94.20" cy="452.87" r="2.2"/><circle cx="95.25" cy="458.30" r="2.2"/><circle cx="95.69" cy="456.70" r="2.2"/><circle cx="95.62" cy="455.10" r="2.2"/><circle cx="95.23" cy="453.50" r="2.2"/><circle cx="95.50" cy="453.80" r="2.2"/><circle cx="97.08" cy="458.30" r="2.2"/><circle cx="96.89" cy="456.70" r="2.2"/><circle cx="96.87" cy="455.10" r="2.2"/><circle cx="96.59" cy="453.50" r="2.2"/><circle cx="96.80" cy="452.52" r="2.2"/><circle cx="98.12" cy="458.30" r="2.2"/><circle cx="97.84" cy="456.70" r="2.2"/><circle cx="97.91" cy="455.10" r="2.2"/><circle cx="98.10" cy="453.57" r="2.2"/><circle cx="99.12" cy="458.30" r="2.2"/><circle cx="99.38" cy="456.70" r="2.2"/><circle cx="99.36" cy="455.10" r="2.2"/><circle cx="99.40" cy="454.97" r="2.2"/><circle cx="100.71" cy="458.30" r="2.2"/><circle cx="100.78" cy="456.70" r="2.2"/><circle cx="100.70" cy="455.10" r="2.2"/><circle cx="100.70" cy="454.65" r="2.2"/><circle cx="101.97" cy="458.30" r="2.2"/><circle cx="101.87" cy="456.70" r="2.2"/><circle cx="102.30" cy="455.10" r="2.2"/><circle cx="102.00" cy="455.47" r="2.2"/><circle cx="103.50" cy="458.30" r="2.2"/><circle cx="103.42" cy="456.70" r="2.2"/><circle cx="103.19" cy="455.10" r="2.2"/><circle cx="103.30" cy="453.86" r="2.2"/><circle cx="104.47" cy="458.30" r="2.2"/><circle cx="104.34" cy="456.70" r="2.2"/><circle cx="104.76" cy="455.10" r="2.2"/><circle cx="104.60" cy="454.24" r="2.2"/><circle cx="106.11" cy="458.30" r="2.2"/><circle cx="105.83" cy="456.70" r="2.2"/><circle cx="106.17" cy="455.10" r="2.2"/><circle cx="105.90" cy="455.14" r="2.2"/><circle cx="106.90" cy="458.30" r="2.2"/><circle cx="107.03" cy="456.70" r="2.2"/><circle cx="107.45" cy="455.10" r="2.2"/><circle cx="107.20" cy="454.22" r="2.2"/><circle cx="108.79" cy="458.30" r="2.2"/><circle cx="108.44" cy="456.70" r="2.2"/><circle cx="108.24" cy="455.10" r="2.2"/><circle cx="108.50" cy="454.48" r="2.2"/><circle cx="109.97" cy="458.30" r="2.2"/><circle cx="109.66" cy="456.70" r="2.2"/><circle cx="109.55" cy="455.10" r="2.2"/><circle cx="109.80" cy="453.75" r="2.2"/><circle cx="111.38" cy="458.30" r="2.2"/><circle cx="111.25" cy="456.70" r="2.2"/><circle cx="110.87" cy="455.10" r="2.2"/><circle cx="110.95" cy="453.50" r="2.2"/><circle cx="110.86" cy="451.90" r="2.2"/><circle cx="111.10" cy="450.48" r="2.2"/><circle cx="112.58" cy="458.30" r="2.2"/><circle cx="112.21" cy="456.70" r="2.2"/><circle cx="112.44" cy="455.10" r="2.2"/><circle cx="112.37" cy="453.50" r="2.2"/><circle cx="112.21" cy="451.90" r="2.2"/><circle cx="112.54" cy="450.30" r="2.2"/><circle cx="112.18" cy="448.70" r="2.2"/><circle cx="112.40" cy="448.62" r="2.2"/><circle cx="113.47" cy="458.30" r="2.2"/><circle cx="113.65" cy="456.70" r="2.2"/><circle cx="113.53" cy="455.10" r="2.2"/><circle cx="113.56" cy="453.50" r="2.2"/><circle cx="113.98" cy="451.90" r="2.2"/><circle cx="113.88" cy="450.30" r="2.2"/><circle cx="113.58" cy="448.70" r="2.2"/><circle cx="113.70" cy="448.43" r="2.2"/><circle cx="114.83" cy="458.30" r="2.2"/><circle cx="114.94" cy="456.70" r="2.2"/><circle cx="115.21" cy="455.10" r="2.2"/><circle cx="115.09" cy="453.50" r="2.2"/><circle cx="114.76" cy="451.90" r="2.2"/><circle cx="115.29" cy="450.30" r="2.2"/><circle cx="114.83" cy="448.70" r="2.2"/><circle cx="115.00" cy="447.84" r="2.2"/><circle cx="116.46" cy="458.30" r="2.2"/><circle cx="116.20" cy="456.70" r="2.2"/><circle cx="116.18" cy="455.10" r="2.2"/><circle cx="116.04" cy="453.50" r="2.2"/><circle cx="116.05" cy="451.90" r="2.2"/><circle cx="116.35" cy="450.30" r="2.2"/><circle cx="116.30" cy="448.59" r="2.2"/><circle cx="117.66" cy="458.30" r="2.2"/><circle cx="117.52" cy="456.70" r="2.2"/><circle cx="117.57" cy="455.10" r="2.2"/><circle cx="117.88" cy="453.50" r="2.2"/><circle cx="117.59" cy="451.90" r="2.2"/><circle cx="117.64" cy="450.30" r="2.2"/><circle cx="117.60" cy="450.58" r="2.2"/><circle cx="118.71" cy="458.30" r="2.2"/><circle cx="118.69" cy="456.70" r="2.2"/><circle cx="119.15" cy="455.10" r="2.2"/><circle cx="119.09" cy="453.50" r="2.2"/><circle cx="118.75" cy="451.90" r="2.2"/><circle cx="118.71" cy="450.30" r="2.2"/><circle cx="118.90" cy="450.84" r="2.2"/><circle cx="120.46" cy="458.30" r="2.2"/><circle cx="120.02" cy="456.70" r="2.2"/><circle cx="120.47" cy="455.10" r="2.2"/><circle cx="120.43" cy="453.50" r="2.2"/><circle cx="120.26" cy="451.90" r="2.2"/><circle cx="120.20" cy="450.68" r="2.2"/><circle cx="121.26" cy="458.30" r="2.2"/><circle cx="121.22" cy="456.70" r="2.2"/><circle cx="121.78" cy="455.10" r="2.2"/><circle cx="121.34" cy="453.50" r="2.2"/><circle cx="121.62" cy="451.90" r="2.2"/><circle cx="121.50" cy="450.85" r="2.2"/><circle cx="122.99" cy="458.30" r="2.2"/><circle cx="122.86" cy="456.70" r="2.2"/><circle cx="122.68" cy="455.10" r="2.2"/><circle cx="122.61" cy="453.50" r="2.2"/><circle cx="122.93" cy="451.90" r="2.2"/><circle cx="122.80" cy="451.03" r="2.2"/><circle cx="123.94" cy="458.30" r="2.2"/><circle cx="124.14" cy="456.70" r="2.2"/><circle cx="124.31" cy="455.10" r="2.2"/><circle cx="124.17" cy="453.50" r="2.2"/><circle cx="124.10" cy="452.25" r="2.2"/><circle cx="125.65" cy="458.30" r="2.2"/><circle cx="125.22" cy="456.70" r="2.2"/><circle cx="125.11" cy="455.10" r="2.2"/><circle cx="125.26" cy="453.50" r="2.2"/><circle cx="125.40" cy="453.37" r="2.2"/><circle cx="126.44" cy="458.30" r="2.2"/><circle cx="126.51" cy="456.70" r="2.2"/><circle cx="126.62" cy="455.10" r="2.2"/><circle cx="126.70" cy="454.41" r="2.2"/><circle cx="127.78" cy="458.30" r="2.2"/><circle cx="127.92" cy="456.70" r="2.2"/><circle cx="128.23" cy="455.10" r="2.2"/><circle cx="128.00" cy="455.62" r="2.2"/><circle cx="129.39" cy="458.30" r="2.2"/><circle cx="129.41" cy="456.70" r="2.2"/><circle cx="129.35" cy="455.10" r="2.2"/><circle cx="129.30" cy="453.70" r="2.2"/><circle cx="130.32" cy="458.30" r="2.2"/><circle cx="130.31" cy="456.70" r="2.2"/><circle cx="130.85" cy="455.10" r="2.2"/><circle cx="130.60" cy="454.87" r="2.2"/><circle cx="132.18" cy="458.30" r="2.2"/><circle cx="131.61" cy="456.70" r="2.2"/><circle cx="131.98" cy="455.10" r="2.2"/><circle cx="131.90" cy="454.32" r="2.2"/><circle cx="133.34" cy="458.30" r="2.2"/><circle cx="133.09" cy="456.70" r="2.2"/><circle cx="133.50" cy="455.10" r="2.2"/><circle cx="133.20" cy="453.29" r="2.2"/><circle cx="134.53" cy="458.30" r="2.2"/><circle cx="134.64" cy="456.70" r="2.2"/><circle cx="134.74" cy="455.10" r="2.2"/><circle cx="134.50" cy="454.29" r="2.2"/><circle cx="135.92" cy="458.30" r="2.2"/><circle cx="135.98" cy="456.70" r="2.2"/><circle cx="136.05" cy="455.10" r="2.2"/><circle cx="135.71" cy="453.50" r="2.2"/><circle cx="135.80" cy="453.71" r="2.2"/><circle cx="137.34" cy="458.30" r="2.2"/><circle cx="137.32" cy="456.70" r="2.2"/><circle cx="137.05" cy="455.10" r="2.2"/><circle cx="137.27" cy="453.50" r="2.2"/><circle cx="137.10" cy="453.64" r="2.2"/><circle cx="138.44" cy="458.30" r="2.2"/><circle cx="138.47" cy="456.70" r="2.2"/><circle cx="138.33" cy="455.10" r="2.2"/><circle cx="138.45" cy="453.50" r="2.2"/><circle cx="138.40" cy="452.61" r="2.2"/><circle cx="139.45" cy="458.30" r="2.2"/><circle cx="139.78" cy="456.70" r="2.2"/><circle cx="140.00" cy="455.10" r="2.2"/><circle cx="139.93" cy="453.50" r="2.2"/><circle cx="139.84" cy="451.90" r="2.2"/><circle cx="139.70" cy="451.66" r="2.2"/><circle cx="141.14" cy="458.30" r="2.2"/><circle cx="141.05" cy="456.70" r="2.2"/><circle cx="140.96" cy="455.10" r="2.2"/><circle cx="141.20" cy="453.50" r="2.2"/><circle cx="140.75" cy="451.90" r="2.2"/><circle cx="141.00" cy="452.35" r="2.2"/><circle cx="142.02" cy="458.30" r="2.2"/><circle cx="142.36" cy="456.70" r="2.2"/><circle cx="142.29" cy="455.10" r="2.2"/><circle cx="142.14" cy="453.50" r="2.2"/><circle cx="142.42" cy="451.90" r="2.2"/><circle cx="142.30" cy="451.79" r="2.2"/><circle cx="143.67" cy="458.30" r="2.2"/><circle cx="143.85" cy="456.70" r="2.2"/><circle cx="143.45" cy="455.10" r="2.2"/><circle cx="143.31" cy="453.50" r="2.2"/><circle cx="143.48" cy="451.90" r="2.2"/><circle cx="143.60" cy="452.19" r="2.2"/><circle cx="144.72" cy="458.30" r="2.2"/><circle cx="144.70" cy="456.70" r="2.2"/><circle cx="145.14" cy="455.10" r="2.2"/><circle cx="145.00" cy="453.50" r="2.2"/><circle cx="144.87" cy="451.90" r="2.2"/><circle cx="144.90" cy="452.66" r="2.2"/><circle cx="146.10" cy="458.30" r="2.2"/><circle cx="146.30" cy="456.70" r="2.2"/><circle cx="146.02" cy="455.10" r="2.2"/><circle cx="146.16" cy="453.50" r="2.2"/><circle cx="146.38" cy="451.90" r="2.2"/><circle cx="146.20" cy="452.71" r="2.2"/><circle cx="147.73" cy="458.30" r="2.2"/><circle cx="147.43" cy="456.70" r="2.2"/><circle cx="147.55" cy="455.10" r="2.2"/><circle cx="147.39" cy="453.50" r="2.2"/><circle cx="147.28" cy="451.90" r="2.2"/><circle cx="147.50" cy="451.79" r="2.2"/><circle cx="149.00" cy="458.30" r="2.2"/><circle cx="149.01" cy="456.70" r="2.2"/><circle cx="148.93" cy="455.10" r="2.2"/><circle cx="149.07" cy="453.50" r="2.2"/><circle cx="148.67" cy="451.90" r="2.2"/><circle cx="148.80" cy="451.07" r="2.2"/><circle cx="150.07" cy="458.30" r="2.2"/><circle cx="149.97" cy="456.70" r="2.2"/><circle cx="149.93" cy="455.10" r="2.2"/><circle cx="150.05" cy="453.50" r="2.2"/><circle cx="150.18" cy="451.90" r="2.2"/><circle cx="150.10" cy="451.78" r="2.2"/><circle cx="151.29" cy="458.30" r="2.2"/><circle cx="151.60" cy="456.70" r="2.2"/><circle cx="151.69" cy="455.10" r="2.2"/><circle cx="151.37" cy="453.50" r="2.2"/><circle cx="151.14" cy="451.90" r="2.2"/><circle cx="151.40" cy="450.68" r="2.2"/><circle cx="152.92" cy="458.30" r="2.2"/><circle cx="152.42" cy="456.70" r="2.2"/><circle cx="152.83" cy="455.10" r="2.2"/><circle cx="152.74" cy="453.50" r="2.2"/><circle cx="152.59" cy="451.90" r="2.2"/><circle cx="152.70" cy="452.27" r="2.2"/><circle cx="153.71" cy="458.30" r="2.2"/><circle cx="153.78" cy="456.70" r="2.2"/><circle cx="153.97" cy="455.10" r="2.2"/><circle cx="153.71" cy="453.50" r="2.2"/><circle cx="154.20" cy="451.90" r="2.2"/><circle cx="154.00" cy="450.97" r="2.2"/><circle cx="155.08" cy="458.30" r="2.2"/><circle cx="155.03" cy="456.70" r="2.2"/><circle cx="155.38" cy="455.10" r="2.2"/><circle cx="155.27" cy="453.50" r="2.2"/><circle cx="155.38" cy="451.90" r="2.2"/><circle cx="155.30" cy="451.81" r="2.2"/><circle cx="156.78" cy="458.30" r="2.2"/><circle cx="156.88" cy="456.70" r="2.2"/><circle cx="156.71" cy="455.10" r="2.2"/><circle cx="156.42" cy="453.50" r="2.2"/><circle cx="156.59" cy="451.90" r="2.2"/><circle cx="156.60" cy="450.68" r="2.2"/><circle cx="157.61" cy="458.30" r="2.2"/><circle cx="157.88" cy="456.70" r="2.2"/><circle cx="158.03" cy="455.10" r="2.2"/><circle cx="157.71" cy="453.50" r="2.2"/><circle cx="157.76" cy="451.90" r="2.2"/><circle cx="157.90" cy="450.97" r="2.2"/><circle cx="159.32" cy="458.30" r="2.2"/><circle cx="159.21" cy="456.70" r="2.2"/><circle cx="159.27" cy="455.10" r="2.2"/><circle cx="159.35" cy="453.50" r="2.2"/><circle cx="159.14" cy="451.90" r="2.2"/><circle cx="159.20" cy="451.94" r="2.2"/><circle cx="160.74" cy="458.30" r="2.2"/><circle cx="160.25" cy="456.70" r="2.2"/><circle cx="160.76" cy="455.10" r="2.2"/><circle cx="160.63" cy="453.50" r="2.2"/><circle cx="160.28" cy="451.90" r="2.2"/><circle cx="160.50" cy="451.20" r="2.2"/><circle cx="161.88" cy="458.30" r="2.2"/><circle cx="162.05" cy="456.70" r="2.2"/><circle cx="161.73" cy="455.10" r="2.2"/><circle cx="161.84" cy="453.50" r="2.2"/><circle cx="162.03" cy="451.90" r="2.2"/><circle cx="161.80" cy="451.95" r="2.2"/><circle cx="163.37" cy="458.30" r="2.2"/><circle cx="163.08" cy="456.70" r="2.2"/><circle cx="163.19" cy="455.10" r="2.2"/><circle cx="162.92" cy="453.50" r="2.2"/><circle cx="163.23" cy="451.90" r="2.2"/><circle cx="163.10" cy="452.00" r="2.2"/><circle cx="164.48" cy="458.30" r="2.2"/><circle cx="164.53" cy="456.70" r="2.2"/><circle cx="164.23" cy="455.10" r="2.2"/><circle cx="164.64" cy="453.50" r="2.2"/><circle cx="164.69" cy="451.90" r="2.2"/><circle cx="164.40" cy="452.64" r="2.2"/><circle cx="131.66" cy="452.63" r="2.2"/><circle cx="116.07" cy="447.07" r="2.2"/><circle cx="154.62" cy="450.52" r="2.2"/><circle cx="98.96" cy="453.04" r="2.2"/><circle cx="132.62" cy="452.61" r="2.2"/><circle cx="128.10" cy="454.11" r="2.2"/><circle cx="151.26" cy="451.21" r="2.2"/><circle cx="150.59" cy="451.07" r="2.2"/><circle cx="117.12" cy="447.83" r="2.2"/><circle cx="103.12" cy="453.79" r="2.2"/><circle cx="130.19" cy="452.82" r="2.2"/><circle cx="153.48" cy="450.01" r="2.2"/><circle cx="161.09" cy="450.06" r="2.2"/><circle cx="161.34" cy="450.75" r="2.2"/><circle cx="108.94" cy="452.88" r="2.2"/><circle cx="113.89" cy="446.06" r="2.2"/><circle cx="139.00" cy="450.87" r="2.2"/><circle cx="153.74" cy="450.21" r="2.2"/><circle cx="115.44" cy="447.59" r="2.2"/><circle cx="153.86" cy="449.63" r="2.2"/><circle cx="107.99" cy="452.39" r="2.2"/><circle cx="162.73" cy="450.01" r="2.2"/><circle cx="134.26" cy="453.11" r="2.2"/><circle cx="131.59" cy="453.12" r="2.2"/><circle cx="136.58" cy="452.58" r="2.2"/><circle cx="162.80" cy="450.02" r="2.2"/><circle cx="71.52" cy="453.97" r="2.2"/><circle cx="85.68" cy="455.21" r="2.2"/></g>
<circle cx="140.5" cy="446.1" r="2.3" fill="#6e9e98"/>
<circle cx="144.3" cy="438.6" r="2.5" fill="#e0747a"/>
<circle cx="101.9" cy="381.2" r="2.4" fill="#18733d"/>
<text x="98.40" y="380.00" font-size="8.8" font-style="italic" text-anchor="end" fill="#231f20">KRAS</text>
<text x="148.60" y="438.60" font-size="8.8" font-style="italic" fill="#231f20">BRAF</text>
<line x1="55.40" y1="375.00" x2="55.40" y2="458.80" stroke="#111" stroke-width="1.5"/>
<line x1="54.70" y1="458.10" x2="180.00" y2="458.10" stroke="#111" stroke-width="1.5"/>
<line x1="51.90" y1="458.10" x2="55.40" y2="458.10" stroke="#231f20" stroke-width="1.0"/>
<text x="49.60" y="461.20" font-size="8.6" text-anchor="end" fill="#231f20">0</text>
<line x1="51.90" y1="437.47" x2="55.40" y2="437.47" stroke="#231f20" stroke-width="1.0"/>
<text x="49.60" y="440.57" font-size="8.6" text-anchor="end" fill="#231f20">10</text>
<line x1="51.90" y1="416.84" x2="55.40" y2="416.84" stroke="#231f20" stroke-width="1.0"/>
<text x="49.60" y="419.94" font-size="8.6" text-anchor="end" fill="#231f20">20</text>
<line x1="51.90" y1="396.21" x2="55.40" y2="396.21" stroke="#231f20" stroke-width="1.0"/>
<text x="49.60" y="399.31" font-size="8.6" text-anchor="end" fill="#231f20">30</text>
<line x1="51.90" y1="375.58" x2="55.40" y2="375.58" stroke="#231f20" stroke-width="1.0"/>
<text x="49.60" y="378.68" font-size="8.6" text-anchor="end" fill="#231f20">40</text>
<line x1="55.50" y1="458.10" x2="55.50" y2="461.30" stroke="#231f20" stroke-width="1.0"/>
<text x="55.50" y="469.50" font-size="8.6" text-anchor="middle" fill="#231f20">−0.6</text>
<line x1="80.14" y1="458.10" x2="80.14" y2="461.30" stroke="#231f20" stroke-width="1.0"/>
<text x="80.14" y="469.50" font-size="8.6" text-anchor="middle" fill="#231f20">−0.4</text>
<line x1="104.78" y1="458.10" x2="104.78" y2="461.30" stroke="#231f20" stroke-width="1.0"/>
<text x="104.78" y="469.50" font-size="8.6" text-anchor="middle" fill="#231f20">−0.2</text>
<line x1="129.42" y1="458.10" x2="129.42" y2="461.30" stroke="#231f20" stroke-width="1.0"/>
<text x="129.42" y="469.50" font-size="8.6" text-anchor="middle" fill="#231f20">0.0</text>
<line x1="154.06" y1="458.10" x2="154.06" y2="461.30" stroke="#231f20" stroke-width="1.0"/>
<text x="154.06" y="469.50" font-size="8.6" text-anchor="middle" fill="#231f20">0.2</text>
<line x1="178.70" y1="458.10" x2="178.70" y2="461.30" stroke="#231f20" stroke-width="1.0"/>
<text x="178.70" y="469.50" font-size="8.6" text-anchor="middle" fill="#231f20">0.4</text>
<text x="116.50" y="481.00" font-size="8.9" text-anchor="middle" fill="#231f20">Difference in mean sensitivity</text>
<text transform="translate(21.6,417.0) rotate(-90)" font-size="8.8" text-anchor="middle" fill="#231f20">Significance</text>
<text transform="translate(31.9,417.7) rotate(-90)" font-size="8.8" text-anchor="middle" fill="#231f20">(−log<tspan font-size="5.9" dy="1.6">10</tspan><tspan dy="-1.6"> </tspan><tspan font-style="italic">P</tspan>)</text>
<g fill="#1b7f40"><circle cx="268.50" cy="370.00" r="2.05"/><circle cx="268.50" cy="372.20" r="2.05"/><circle cx="268.50" cy="374.40" r="2.05"/><circle cx="268.50" cy="376.60" r="2.05"/><circle cx="268.50" cy="378.80" r="2.05"/><circle cx="269.29" cy="381.00" r="2.05"/><circle cx="267.71" cy="381.00" r="2.05"/><circle cx="267.61" cy="383.20" r="2.05"/><circle cx="269.39" cy="383.20" r="2.05"/><circle cx="269.12" cy="385.40" r="2.05"/><circle cx="267.88" cy="385.40" r="2.05"/><circle cx="267.44" cy="387.60" r="2.05"/><circle cx="269.56" cy="387.60" r="2.05"/><circle cx="268.96" cy="389.80" r="2.05"/><circle cx="268.04" cy="389.80" r="2.05"/><circle cx="267.27" cy="392.00" r="2.05"/><circle cx="269.73" cy="392.00" r="2.05"/><circle cx="266.90" cy="396.20" r="2.05"/><circle cx="270.10" cy="396.20" r="2.05"/><circle cx="270.10" cy="396.20" r="2.05"/><circle cx="265.10" cy="398.40" r="2.05"/><circle cx="268.50" cy="398.40" r="2.05"/><circle cx="271.90" cy="398.40" r="2.05"/><circle cx="266.50" cy="400.60" r="2.05"/><circle cx="270.10" cy="400.60" r="2.05"/><circle cx="270.50" cy="400.60" r="2.05"/><circle cx="264.70" cy="402.80" r="2.05"/><circle cx="268.50" cy="402.80" r="2.05"/><circle cx="272.30" cy="402.80" r="2.05"/><circle cx="266.10" cy="405.00" r="2.05"/><circle cx="270.10" cy="405.00" r="2.05"/><circle cx="270.90" cy="405.00" r="2.05"/><circle cx="264.50" cy="407.20" r="2.05"/><circle cx="268.50" cy="407.20" r="2.05"/><circle cx="272.50" cy="407.20" r="2.05"/><circle cx="266.13" cy="409.40" r="2.05"/><circle cx="270.10" cy="409.40" r="2.05"/><circle cx="270.87" cy="409.40" r="2.05"/><circle cx="264.57" cy="411.60" r="2.05"/><circle cx="268.50" cy="411.60" r="2.05"/><circle cx="272.43" cy="411.60" r="2.05"/><circle cx="266.20" cy="413.80" r="2.05"/><circle cx="270.10" cy="413.80" r="2.05"/><circle cx="270.80" cy="413.80" r="2.05"/><circle cx="264.64" cy="416.00" r="2.05"/><circle cx="268.50" cy="416.00" r="2.05"/><circle cx="272.36" cy="416.00" r="2.05"/><circle cx="266.27" cy="418.20" r="2.05"/><circle cx="270.10" cy="418.20" r="2.05"/><circle cx="270.73" cy="418.20" r="2.05"/><circle cx="265.30" cy="422.20" r="2.05"/><circle cx="268.50" cy="422.20" r="2.05"/><circle cx="271.70" cy="422.20" r="2.05"/><circle cx="267.31" cy="424.40" r="2.05"/><circle cx="270.10" cy="424.40" r="2.05"/><circle cx="269.69" cy="424.40" r="2.05"/><circle cx="266.11" cy="426.60" r="2.05"/><circle cx="270.89" cy="426.60" r="2.05"/><circle cx="268.12" cy="428.80" r="2.05"/><circle cx="268.88" cy="428.80" r="2.05"/><circle cx="266.93" cy="431.00" r="2.05"/><circle cx="270.07" cy="431.00" r="2.05"/><circle cx="268.50" cy="439.20" r="2.05"/></g>
<g fill="#6bb143"><circle cx="289.50" cy="365.70" r="2.05"/><circle cx="292.60" cy="368.30" r="2.05"/><circle cx="287.80" cy="371.90" r="2.05"/><circle cx="291.30" cy="372.80" r="2.05"/><circle cx="287.80" cy="376.30" r="2.05"/><circle cx="289.50" cy="379.00" r="2.05"/><circle cx="292.20" cy="380.80" r="2.05"/><circle cx="288.70" cy="387.90" r="2.05"/><circle cx="291.30" cy="387.00" r="2.05"/><circle cx="286.00" cy="390.50" r="2.05"/><circle cx="288.70" cy="390.30" r="2.05"/><circle cx="292.20" cy="390.50" r="2.05"/><circle cx="294.90" cy="390.80" r="2.05"/><circle cx="286.00" cy="395.50" r="2.05"/><circle cx="288.70" cy="396.00" r="2.05"/><circle cx="291.30" cy="395.50" r="2.05"/><circle cx="287.80" cy="398.50" r="2.05"/><circle cx="290.40" cy="398.00" r="2.05"/><circle cx="284.20" cy="408.00" r="2.05"/><circle cx="286.90" cy="408.40" r="2.05"/><circle cx="290.40" cy="408.40" r="2.05"/><circle cx="294.00" cy="408.00" r="2.05"/><circle cx="286.00" cy="411.00" r="2.05"/><circle cx="289.50" cy="411.40" r="2.05"/><circle cx="293.00" cy="410.40" r="2.05"/><circle cx="287.80" cy="414.50" r="2.05"/><circle cx="291.30" cy="413.80" r="2.05"/><circle cx="288.70" cy="417.20" r="2.05"/><circle cx="291.30" cy="420.70" r="2.05"/><circle cx="289.50" cy="424.30" r="2.05"/><circle cx="289.50" cy="427.00" r="2.05"/><circle cx="289.50" cy="432.30" r="2.05"/></g>
<g fill="#3c6fc3"><circle cx="310.70" cy="366.70" r="2.05"/><circle cx="309.60" cy="374.80" r="2.05"/><circle cx="311.80" cy="377.00" r="2.05"/><circle cx="308.90" cy="381.40" r="2.05"/><circle cx="310.40" cy="383.70" r="2.05"/><circle cx="313.30" cy="385.90" r="2.05"/><circle cx="311.80" cy="388.10" r="2.05"/><circle cx="310.40" cy="389.60" r="2.05"/><circle cx="306.70" cy="397.70" r="2.05"/><circle cx="308.90" cy="396.20" r="2.05"/><circle cx="311.80" cy="395.50" r="2.05"/><circle cx="314.80" cy="397.00" r="2.05"/><circle cx="306.20" cy="409.60" r="2.05"/><circle cx="309.10" cy="409.60" r="2.05"/><circle cx="312.00" cy="409.60" r="2.05"/><circle cx="314.90" cy="409.60" r="2.05"/><circle cx="307.00" cy="412.40" r="2.05"/><circle cx="309.90" cy="413.00" r="2.05"/><circle cx="312.80" cy="413.30" r="2.05"/><circle cx="307.60" cy="416.20" r="2.05"/><circle cx="311.00" cy="416.80" r="2.05"/><circle cx="314.00" cy="417.30" r="2.05"/><circle cx="308.30" cy="420.00" r="2.05"/><circle cx="311.80" cy="421.20" r="2.05"/><circle cx="314.60" cy="420.50" r="2.05"/><circle cx="309.00" cy="424.00" r="2.05"/><circle cx="311.80" cy="424.50" r="2.05"/><circle cx="310.40" cy="430.30" r="2.05"/></g>
<g fill="#80c3e7"><circle cx="326.40" cy="358.90" r="2.05"/><circle cx="331.70" cy="358.90" r="2.05"/><circle cx="337.00" cy="358.90" r="2.05"/><circle cx="326.40" cy="365.30" r="2.05"/><circle cx="331.70" cy="368.30" r="2.05"/><circle cx="329.00" cy="376.00" r="2.05"/><circle cx="334.40" cy="377.70" r="2.05"/><circle cx="326.40" cy="383.50" r="2.05"/><circle cx="331.70" cy="384.00" r="2.05"/><circle cx="337.00" cy="385.20" r="2.05"/><circle cx="326.40" cy="390.50" r="2.05"/><circle cx="331.70" cy="389.50" r="2.05"/><circle cx="337.00" cy="392.50" r="2.05"/><circle cx="326.40" cy="397.00" r="2.05"/><circle cx="331.70" cy="398.00" r="2.05"/><circle cx="337.00" cy="401.50" r="2.05"/><circle cx="326.40" cy="401.00" r="2.05"/><circle cx="331.70" cy="404.70" r="2.05"/><circle cx="331.70" cy="416.80" r="2.05"/><circle cx="331.70" cy="438.50" r="2.05"/></g>
<g fill="#574a9c"><circle cx="347.90" cy="367.00" r="2.05"/><circle cx="353.10" cy="366.40" r="2.05"/><circle cx="358.10" cy="367.00" r="2.05"/><circle cx="353.40" cy="370.90" r="2.05"/><circle cx="350.30" cy="379.60" r="2.05"/><circle cx="355.80" cy="379.60" r="2.05"/><circle cx="353.40" cy="385.90" r="2.05"/><circle cx="347.90" cy="395.30" r="2.05"/><circle cx="353.10" cy="394.30" r="2.05"/><circle cx="358.30" cy="395.30" r="2.05"/><circle cx="348.20" cy="399.30" r="2.05"/><circle cx="353.40" cy="398.30" r="2.05"/><circle cx="358.60" cy="399.30" r="2.05"/><circle cx="353.40" cy="404.80" r="2.05"/><circle cx="350.70" cy="410.70" r="2.05"/><circle cx="355.80" cy="413.50" r="2.05"/><circle cx="353.40" cy="421.40" r="2.05"/></g>
<g fill="#c6d85b"><circle cx="371.40" cy="358.30" r="2.05"/><circle cx="374.00" cy="358.30" r="2.05"/><circle cx="376.60" cy="358.30" r="2.05"/><circle cx="374.00" cy="360.90" r="2.05"/><circle cx="372.56" cy="363.50" r="2.05"/><circle cx="375.44" cy="363.50" r="2.05"/><circle cx="373.63" cy="366.10" r="2.05"/><circle cx="374.37" cy="366.10" r="2.05"/><circle cx="371.29" cy="368.70" r="2.05"/><circle cx="374.00" cy="368.70" r="2.05"/><circle cx="376.71" cy="368.70" r="2.05"/><circle cx="372.35" cy="371.30" r="2.05"/><circle cx="375.70" cy="371.30" r="2.05"/><circle cx="375.65" cy="371.30" r="2.05"/><circle cx="370.02" cy="373.90" r="2.05"/><circle cx="374.00" cy="373.90" r="2.05"/><circle cx="377.98" cy="373.90" r="2.05"/><circle cx="371.08" cy="376.50" r="2.05"/><circle cx="374.16" cy="376.50" r="2.05"/><circle cx="377.24" cy="376.50" r="2.05"/><circle cx="376.92" cy="376.50" r="2.05"/><circle cx="368.74" cy="379.10" r="2.05"/><circle cx="372.25" cy="379.10" r="2.05"/><circle cx="375.75" cy="379.10" r="2.05"/><circle cx="379.26" cy="379.10" r="2.05"/><circle cx="372.30" cy="383.10" r="2.05"/><circle cx="375.70" cy="383.10" r="2.05"/><circle cx="375.70" cy="383.10" r="2.05"/><circle cx="370.72" cy="385.70" r="2.05"/><circle cx="374.00" cy="385.70" r="2.05"/><circle cx="377.28" cy="385.70" r="2.05"/><circle cx="372.55" cy="388.30" r="2.05"/><circle cx="375.70" cy="388.30" r="2.05"/><circle cx="375.45" cy="388.30" r="2.05"/><circle cx="370.97" cy="390.90" r="2.05"/><circle cx="374.00" cy="390.90" r="2.05"/><circle cx="377.03" cy="390.90" r="2.05"/><circle cx="372.79" cy="393.50" r="2.05"/><circle cx="375.70" cy="393.50" r="2.05"/><circle cx="375.21" cy="393.50" r="2.05"/><circle cx="371.22" cy="396.10" r="2.05"/><circle cx="374.00" cy="396.10" r="2.05"/><circle cx="376.78" cy="396.10" r="2.05"/><circle cx="373.04" cy="398.70" r="2.05"/><circle cx="375.70" cy="398.70" r="2.05"/><circle cx="374.96" cy="398.70" r="2.05"/><circle cx="371.60" cy="402.60" r="2.05"/><circle cx="376.40" cy="402.60" r="2.05"/><circle cx="373.50" cy="405.20" r="2.05"/><circle cx="374.50" cy="405.20" r="2.05"/><circle cx="372.00" cy="407.80" r="2.05"/><circle cx="376.00" cy="407.80" r="2.05"/><circle cx="373.90" cy="410.40" r="2.05"/><circle cx="374.10" cy="410.40" r="2.05"/><circle cx="372.40" cy="413.00" r="2.05"/><circle cx="375.60" cy="413.00" r="2.05"/><circle cx="374.30" cy="415.60" r="2.05"/><circle cx="373.70" cy="415.60" r="2.05"/><circle cx="372.80" cy="418.20" r="2.05"/><circle cx="375.20" cy="418.20" r="2.05"/><circle cx="374.00" cy="421.50" r="2.05"/><circle cx="373.20" cy="425.30" r="2.05"/></g>
<g fill="#84ccb7"><circle cx="391.70" cy="358.60" r="2.05"/><circle cx="395.30" cy="358.60" r="2.05"/><circle cx="398.90" cy="358.60" r="2.05"/><circle cx="396.00" cy="361.20" r="2.05"/><circle cx="394.60" cy="361.20" r="2.05"/><circle cx="394.30" cy="363.80" r="2.05"/><circle cx="396.30" cy="363.80" r="2.05"/><circle cx="395.00" cy="366.40" r="2.05"/><circle cx="395.60" cy="366.40" r="2.05"/><circle cx="392.69" cy="369.00" r="2.05"/><circle cx="395.30" cy="369.00" r="2.05"/><circle cx="397.91" cy="369.00" r="2.05"/><circle cx="393.78" cy="371.60" r="2.05"/><circle cx="397.00" cy="371.60" r="2.05"/><circle cx="396.82" cy="371.60" r="2.05"/><circle cx="391.46" cy="374.20" r="2.05"/><circle cx="395.30" cy="374.20" r="2.05"/><circle cx="399.14" cy="374.20" r="2.05"/><circle cx="392.55" cy="376.80" r="2.05"/><circle cx="395.52" cy="376.80" r="2.05"/><circle cx="398.48" cy="376.80" r="2.05"/><circle cx="398.05" cy="376.80" r="2.05"/><circle cx="390.24" cy="379.40" r="2.05"/><circle cx="393.61" cy="379.40" r="2.05"/><circle cx="396.99" cy="379.40" r="2.05"/><circle cx="400.36" cy="379.40" r="2.05"/><circle cx="393.20" cy="382.60" r="2.05"/><circle cx="397.00" cy="382.60" r="2.05"/><circle cx="397.40" cy="382.60" r="2.05"/><circle cx="391.68" cy="385.20" r="2.05"/><circle cx="395.30" cy="385.20" r="2.05"/><circle cx="398.92" cy="385.20" r="2.05"/><circle cx="393.56" cy="387.80" r="2.05"/><circle cx="397.00" cy="387.80" r="2.05"/><circle cx="397.04" cy="387.80" r="2.05"/><circle cx="392.04" cy="390.40" r="2.05"/><circle cx="395.30" cy="390.40" r="2.05"/><circle cx="398.56" cy="390.40" r="2.05"/><circle cx="393.92" cy="393.00" r="2.05"/><circle cx="397.00" cy="393.00" r="2.05"/><circle cx="396.68" cy="393.00" r="2.05"/><circle cx="392.40" cy="395.60" r="2.05"/><circle cx="395.30" cy="395.60" r="2.05"/><circle cx="398.20" cy="395.60" r="2.05"/><circle cx="394.28" cy="398.20" r="2.05"/><circle cx="397.00" cy="398.20" r="2.05"/><circle cx="396.32" cy="398.20" r="2.05"/><circle cx="393.50" cy="402.60" r="2.05"/><circle cx="397.10" cy="402.60" r="2.05"/><circle cx="395.48" cy="405.20" r="2.05"/><circle cx="395.12" cy="405.20" r="2.05"/><circle cx="394.06" cy="407.80" r="2.05"/><circle cx="396.54" cy="407.80" r="2.05"/><circle cx="394.00" cy="413.50" r="2.05"/><circle cx="397.00" cy="413.50" r="2.05"/><circle cx="395.30" cy="417.00" r="2.05"/><circle cx="394.20" cy="421.00" r="2.05"/><circle cx="397.00" cy="421.50" r="2.05"/><circle cx="395.00" cy="423.80" r="2.05"/></g>
<g fill="#18807c"><circle cx="414.20" cy="358.60" r="2.05"/><circle cx="418.20" cy="358.60" r="2.05"/><circle cx="414.20" cy="363.20" r="2.05"/><circle cx="418.20" cy="364.20" r="2.05"/><circle cx="416.40" cy="369.40" r="2.05"/><circle cx="411.00" cy="375.50" r="2.05"/><circle cx="414.00" cy="376.50" r="2.05"/><circle cx="417.50" cy="377.00" r="2.05"/><circle cx="420.80" cy="378.00" r="2.05"/><circle cx="412.00" cy="380.00" r="2.05"/><circle cx="415.00" cy="381.50" r="2.05"/><circle cx="418.50" cy="381.00" r="2.05"/><circle cx="422.00" cy="381.50" r="2.05"/><circle cx="413.00" cy="384.00" r="2.05"/><circle cx="416.50" cy="385.00" r="2.05"/><circle cx="419.50" cy="384.50" r="2.05"/><circle cx="415.00" cy="388.00" r="2.05"/><circle cx="418.00" cy="388.50" r="2.05"/><circle cx="416.40" cy="391.40" r="2.05"/><circle cx="414.50" cy="401.70" r="2.05"/><circle cx="419.20" cy="403.70" r="2.05"/><circle cx="416.40" cy="407.30" r="2.05"/><circle cx="420.00" cy="408.00" r="2.05"/><circle cx="414.50" cy="411.00" r="2.05"/></g>
<g fill="#e96568"><circle cx="432.60" cy="358.60" r="2.05"/><circle cx="435.93" cy="358.60" r="2.05"/><circle cx="439.27" cy="358.60" r="2.05"/><circle cx="442.60" cy="358.60" r="2.05"/><circle cx="436.90" cy="361.20" r="2.05"/><circle cx="438.30" cy="361.20" r="2.05"/><circle cx="436.20" cy="363.80" r="2.05"/><circle cx="439.00" cy="363.80" r="2.05"/><circle cx="435.70" cy="366.40" r="2.05"/><circle cx="439.30" cy="366.40" r="2.05"/><circle cx="439.50" cy="366.40" r="2.05"/><circle cx="433.80" cy="369.00" r="2.05"/><circle cx="437.60" cy="369.00" r="2.05"/><circle cx="441.40" cy="369.00" r="2.05"/><circle cx="435.30" cy="371.60" r="2.05"/><circle cx="439.30" cy="371.60" r="2.05"/><circle cx="439.90" cy="371.60" r="2.05"/><circle cx="433.40" cy="374.20" r="2.05"/><circle cx="437.60" cy="374.20" r="2.05"/><circle cx="441.80" cy="374.20" r="2.05"/><circle cx="434.90" cy="376.80" r="2.05"/><circle cx="437.83" cy="376.80" r="2.05"/><circle cx="440.77" cy="376.80" r="2.05"/><circle cx="440.30" cy="376.80" r="2.05"/><circle cx="435.00" cy="379.40" r="2.05"/><circle cx="437.60" cy="379.40" r="2.05"/><circle cx="440.20" cy="379.40" r="2.05"/><circle cx="437.68" cy="382.00" r="2.05"/><circle cx="437.53" cy="382.00" r="2.05"/></g>
<line x1="261.70" y1="410.00" x2="275.30" y2="410.00" stroke="#111" stroke-width="1.4"/>
<line x1="282.80" y1="393.40" x2="296.40" y2="393.40" stroke="#111" stroke-width="1.4"/>
<line x1="303.90" y1="407.60" x2="317.50" y2="407.60" stroke="#111" stroke-width="1.4"/>
<line x1="325.00" y1="387.50" x2="338.60" y2="387.50" stroke="#111" stroke-width="1.4"/>
<line x1="346.10" y1="394.80" x2="359.70" y2="394.80" stroke="#111" stroke-width="1.4"/>
<line x1="367.20" y1="381.70" x2="380.80" y2="381.70" stroke="#111" stroke-width="1.4"/>
<line x1="388.50" y1="382.20" x2="402.10" y2="382.20" stroke="#111" stroke-width="1.4"/>
<line x1="409.60" y1="380.50" x2="423.20" y2="380.50" stroke="#111" stroke-width="1.4"/>
<line x1="430.80" y1="369.50" x2="444.40" y2="369.50" stroke="#111" stroke-width="1.4"/>
<line x1="253.90" y1="358.80" x2="253.90" y2="460.60" stroke="#111" stroke-width="1.5"/>
<line x1="253.20" y1="459.90" x2="452.00" y2="459.90" stroke="#111" stroke-width="1.5"/>
<line x1="250.40" y1="359.40" x2="253.80" y2="359.40" stroke="#231f20" stroke-width="1.2"/>
<text x="247.80" y="363.00" font-size="8.7" text-anchor="end" fill="#231f20">1.0</text>
<line x1="250.40" y1="409.60" x2="253.80" y2="409.60" stroke="#231f20" stroke-width="1.2"/>
<text x="247.80" y="413.20" font-size="8.7" text-anchor="end" fill="#231f20">0.5</text>
<line x1="250.40" y1="459.80" x2="253.80" y2="459.80" stroke="#231f20" stroke-width="1.2"/>
<text x="247.80" y="463.40" font-size="8.7" text-anchor="end" fill="#231f20">0.0</text>
<text transform="translate(229.3,411.0) rotate(-90)" font-size="8.7" text-anchor="middle" fill="#231f20">RMC-6236 AUC</text>
<line x1="268.50" y1="459.80" x2="268.50" y2="462.80" stroke="#231f20" stroke-width="1.0"/>
<text transform="translate(273.10,471.20) rotate(-45)" font-size="9.2" text-anchor="end" fill="#231f20"><tspan font-style="italic">KRAS</tspan><tspan font-size="6.6" dy="-2.9">G12X</tspan></text>
<line x1="289.60" y1="459.80" x2="289.60" y2="462.80" stroke="#231f20" stroke-width="1.0"/>
<text transform="translate(294.20,471.20) rotate(-45)" font-size="9.2" text-anchor="end" fill="#231f20"><tspan font-style="italic">KRAS</tspan><tspan font-size="6.6" dy="-2.9">Other</tspan></text>
<line x1="310.70" y1="459.80" x2="310.70" y2="462.80" stroke="#231f20" stroke-width="1.0"/>
<text transform="translate(315.30,471.20) rotate(-45)" font-size="9.2" text-anchor="end" fill="#231f20"><tspan font-style="italic">NRAS</tspan><tspan font-size="6.6" dy="-2.9">Q61X</tspan></text>
<line x1="331.80" y1="459.80" x2="331.80" y2="462.80" stroke="#231f20" stroke-width="1.0"/>
<text transform="translate(336.40,471.20) rotate(-45)" font-size="9.2" text-anchor="end" fill="#231f20"><tspan font-style="italic">NRAS</tspan><tspan font-size="6.6" dy="-2.9">Other</tspan></text>
<line x1="352.90" y1="459.80" x2="352.90" y2="462.80" stroke="#231f20" stroke-width="1.0"/>
<text transform="translate(357.50,471.20) rotate(-45)" font-size="9.2" text-anchor="end" fill="#231f20"><tspan font-style="italic">HRAS</tspan><tspan font-size="6.6" dy="-2.9">MUT</tspan></text>
<line x1="374.00" y1="459.80" x2="374.00" y2="462.80" stroke="#231f20" stroke-width="1.0"/>
<text transform="translate(378.60,471.20) rotate(-45)" font-size="9.2" text-anchor="end" fill="#231f20"><tspan font-style="italic">NF1</tspan><tspan font-size="6.6" dy="-2.9">MUT</tspan></text>
<line x1="395.30" y1="459.80" x2="395.30" y2="462.80" stroke="#231f20" stroke-width="1.0"/>
<text transform="translate(399.90,471.20) rotate(-45)" font-size="9.2" text-anchor="end" fill="#231f20"><tspan font-style="italic">EGFR</tspan><tspan font-size="6.6" dy="-2.9">MUT</tspan></text>
<line x1="416.40" y1="459.80" x2="416.40" y2="462.80" stroke="#231f20" stroke-width="1.0"/>
<text transform="translate(421.00,471.20) rotate(-45)" font-size="9.2" text-anchor="end" fill="#231f20"><tspan font-style="italic">PTPN11</tspan><tspan font-size="6.6" dy="-2.9">MUT</tspan></text>
<line x1="437.60" y1="459.80" x2="437.60" y2="462.80" stroke="#231f20" stroke-width="1.0"/>
<text transform="translate(442.20,471.20) rotate(-45)" font-size="9.2" text-anchor="end" fill="#231f20"><tspan font-style="italic">BRAF</tspan><tspan font-size="6.6" dy="-2.9">V600E</tspan></text>
<line x1="268.70" y1="352.30" x2="290.20" y2="352.30" stroke="#231f20" stroke-width="1.2"/>
<line x1="310.30" y1="352.20" x2="331.70" y2="352.20" stroke="#231f20" stroke-width="1.2"/>
<text x="279.60" y="351.60" font-size="8.4" text-anchor="middle" fill="#231f20">***</text>
<text x="320.90" y="350.60" font-size="8.4" text-anchor="middle" fill="#231f20">**</text>
</svg>
</body></html>
